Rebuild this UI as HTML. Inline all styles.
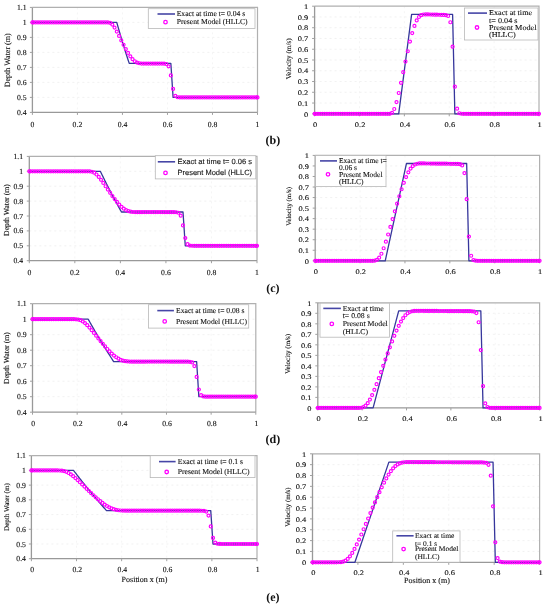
<!DOCTYPE html>
<html><head><meta charset="utf-8"><title>Dam break results</title>
<style>
html,body{margin:0;padding:0;background:#fff;}
body{width:550px;height:608px;overflow:hidden;}
svg{display:block;filter:blur(0.3px);}
text{text-rendering:geometricPrecision;}
.g{stroke:#eeeeee;stroke-width:0.8;stroke-dasharray:2 3;fill:none;}
.bd{stroke:#b0b0b0;stroke-width:1.2;fill:none;}
.ax{stroke:#999999;stroke-width:1.3;fill:none;}
.tk{stroke:#a0a0a0;stroke-width:1;fill:none;}
.ex{stroke:#36369c;stroke-width:1.3;fill:none;stroke-linejoin:round;}
.m{stroke:#ff00ff;stroke-width:1.2;fill:none;}
.lg{stroke:#b8b8b8;stroke-width:0.8;fill:#fff;}
.s{font-family:'Liberation Serif', 'Times New Roman', serif;fill:#111;stroke:#111;stroke-width:0.12px;}
.lt{fill:#111;stroke:#111;stroke-width:0.1px;}
.lab{font-family:'Liberation Serif', 'Times New Roman', serif;font-weight:bold;font-size:12px;fill:#111;}
</style></head>
<body>
<svg width="550" height="608" viewBox="0 0 550 608">
<rect width="550" height="608" fill="#fff"/>
<line x1="32.40" y1="97.40" x2="257.50" y2="97.40" class="g"/>
<line x1="32.40" y1="82.40" x2="257.50" y2="82.40" class="g"/>
<line x1="32.40" y1="67.40" x2="257.50" y2="67.40" class="g"/>
<line x1="32.40" y1="52.40" x2="257.50" y2="52.40" class="g"/>
<line x1="32.40" y1="37.40" x2="257.50" y2="37.40" class="g"/>
<line x1="32.40" y1="22.40" x2="257.50" y2="22.40" class="g"/>
<line x1="77.42" y1="7.40" x2="77.42" y2="112.40" class="g" style="stroke:#f2f2f2"/>
<line x1="122.44" y1="7.40" x2="122.44" y2="112.40" class="g" style="stroke:#f2f2f2"/>
<line x1="167.46" y1="7.40" x2="167.46" y2="112.40" class="g" style="stroke:#f2f2f2"/>
<line x1="212.48" y1="7.40" x2="212.48" y2="112.40" class="g" style="stroke:#f2f2f2"/>
<polyline points="32.40,7.40 257.50,7.40 257.50,112.40" class="bd"/>
<polyline points="32.40,7.40 32.40,112.40 257.50,112.40" class="ax"/>
<line x1="29.90" y1="112.40" x2="32.40" y2="112.40" class="tk"/>
<line x1="29.90" y1="97.40" x2="32.40" y2="97.40" class="tk"/>
<line x1="29.90" y1="82.40" x2="32.40" y2="82.40" class="tk"/>
<line x1="29.90" y1="67.40" x2="32.40" y2="67.40" class="tk"/>
<line x1="29.90" y1="52.40" x2="32.40" y2="52.40" class="tk"/>
<line x1="29.90" y1="37.40" x2="32.40" y2="37.40" class="tk"/>
<line x1="29.90" y1="22.40" x2="32.40" y2="22.40" class="tk"/>
<line x1="29.90" y1="7.40" x2="32.40" y2="7.40" class="tk"/>
<line x1="32.40" y1="112.40" x2="32.40" y2="114.90" class="tk"/>
<line x1="77.42" y1="112.40" x2="77.42" y2="114.90" class="tk"/>
<line x1="122.44" y1="112.40" x2="122.44" y2="114.90" class="tk"/>
<line x1="167.46" y1="112.40" x2="167.46" y2="114.90" class="tk"/>
<line x1="212.48" y1="112.40" x2="212.48" y2="114.90" class="tk"/>
<line x1="257.50" y1="112.40" x2="257.50" y2="114.90" class="tk"/>
<text x="26.60" y="114.94" text-anchor="end" font-size="7.7" class="s">0.4</text>
<text x="26.60" y="99.94" text-anchor="end" font-size="7.7" class="s">0.5</text>
<text x="26.60" y="84.94" text-anchor="end" font-size="7.7" class="s">0.6</text>
<text x="26.60" y="69.94" text-anchor="end" font-size="7.7" class="s">0.7</text>
<text x="26.60" y="54.94" text-anchor="end" font-size="7.7" class="s">0.8</text>
<text x="26.60" y="39.94" text-anchor="end" font-size="7.7" class="s">0.9</text>
<text x="26.60" y="24.94" text-anchor="end" font-size="7.7" class="s">1</text>
<text x="26.60" y="9.94" text-anchor="end" font-size="7.7" class="s">1.1</text>
<text x="32.40" y="126.74" text-anchor="middle" font-size="7.7" class="s">0</text>
<text x="77.42" y="126.74" text-anchor="middle" font-size="7.7" class="s">0.2</text>
<text x="122.44" y="126.74" text-anchor="middle" font-size="7.7" class="s">0.4</text>
<text x="167.46" y="126.74" text-anchor="middle" font-size="7.7" class="s">0.6</text>
<text x="212.48" y="126.74" text-anchor="middle" font-size="7.7" class="s">0.8</text>
<text x="257.50" y="126.74" text-anchor="middle" font-size="7.7" class="s">1</text>
<text x="0" y="0" transform="translate(9.80,60.30) rotate(-90)" text-anchor="middle" font-size="8" class="s">Depth Water (m)</text>
<polyline class="ex" points="32.40,22.40 116.75,22.40 117.07,23.53 117.39,24.66 117.71,25.78 118.03,26.90 118.35,28.02 118.67,29.13 118.99,30.23 119.31,31.33 119.63,32.43 119.95,33.52 120.27,34.61 120.59,35.70 120.91,36.78 121.23,37.85 121.55,38.93 121.86,39.99 122.18,41.06 122.50,42.12 122.82,43.17 123.14,44.22 123.46,45.27 123.78,46.31 124.10,47.35 124.42,48.38 124.74,49.41 125.06,50.43 125.38,51.45 125.70,52.47 126.02,53.48 126.34,54.49 126.66,55.49 126.98,56.49 127.30,57.48 127.62,58.47 127.94,59.46 128.26,60.44 128.58,61.42 128.90,62.39 129.22,63.36 170.84,63.36 173.09,97.40 257.50,97.40"/>
<circle cx="32.40" cy="22.40" r="1.5" class="m"/>
<circle cx="33.53" cy="22.40" r="1.5" class="m"/>
<circle cx="35.78" cy="22.40" r="1.5" class="m"/>
<circle cx="38.03" cy="22.40" r="1.5" class="m"/>
<circle cx="40.28" cy="22.40" r="1.5" class="m"/>
<circle cx="42.53" cy="22.40" r="1.5" class="m"/>
<circle cx="44.78" cy="22.40" r="1.5" class="m"/>
<circle cx="47.03" cy="22.40" r="1.5" class="m"/>
<circle cx="49.28" cy="22.40" r="1.5" class="m"/>
<circle cx="51.53" cy="22.40" r="1.5" class="m"/>
<circle cx="53.78" cy="22.40" r="1.5" class="m"/>
<circle cx="56.04" cy="22.40" r="1.5" class="m"/>
<circle cx="58.29" cy="22.40" r="1.5" class="m"/>
<circle cx="60.54" cy="22.40" r="1.5" class="m"/>
<circle cx="62.79" cy="22.40" r="1.5" class="m"/>
<circle cx="65.04" cy="22.40" r="1.5" class="m"/>
<circle cx="67.29" cy="22.40" r="1.5" class="m"/>
<circle cx="69.54" cy="22.40" r="1.5" class="m"/>
<circle cx="71.79" cy="22.40" r="1.5" class="m"/>
<circle cx="74.04" cy="22.40" r="1.5" class="m"/>
<circle cx="76.29" cy="22.40" r="1.5" class="m"/>
<circle cx="78.55" cy="22.40" r="1.5" class="m"/>
<circle cx="80.80" cy="22.40" r="1.5" class="m"/>
<circle cx="83.05" cy="22.40" r="1.5" class="m"/>
<circle cx="85.30" cy="22.40" r="1.5" class="m"/>
<circle cx="87.55" cy="22.40" r="1.5" class="m"/>
<circle cx="89.80" cy="22.40" r="1.5" class="m"/>
<circle cx="92.05" cy="22.40" r="1.5" class="m"/>
<circle cx="94.30" cy="22.40" r="1.5" class="m"/>
<circle cx="96.55" cy="22.40" r="1.5" class="m"/>
<circle cx="98.80" cy="22.40" r="1.5" class="m"/>
<circle cx="101.06" cy="22.40" r="1.5" class="m"/>
<circle cx="103.31" cy="22.40" r="1.5" class="m"/>
<circle cx="105.56" cy="22.40" r="1.5" class="m"/>
<circle cx="107.81" cy="22.40" r="1.5" class="m"/>
<circle cx="110.06" cy="22.85" r="1.5" class="m"/>
<circle cx="112.31" cy="24.54" r="1.5" class="m"/>
<circle cx="114.56" cy="27.59" r="1.5" class="m"/>
<circle cx="116.81" cy="31.55" r="1.5" class="m"/>
<circle cx="119.06" cy="35.93" r="1.5" class="m"/>
<circle cx="121.31" cy="40.43" r="1.5" class="m"/>
<circle cx="123.57" cy="44.86" r="1.5" class="m"/>
<circle cx="125.82" cy="49.07" r="1.5" class="m"/>
<circle cx="128.07" cy="52.94" r="1.5" class="m"/>
<circle cx="130.32" cy="56.34" r="1.5" class="m"/>
<circle cx="132.57" cy="59.14" r="1.5" class="m"/>
<circle cx="134.82" cy="61.23" r="1.5" class="m"/>
<circle cx="137.07" cy="62.57" r="1.5" class="m"/>
<circle cx="139.32" cy="63.27" r="1.5" class="m"/>
<circle cx="141.57" cy="63.53" r="1.5" class="m"/>
<circle cx="143.82" cy="63.58" r="1.5" class="m"/>
<circle cx="146.08" cy="63.57" r="1.5" class="m"/>
<circle cx="148.33" cy="63.56" r="1.5" class="m"/>
<circle cx="150.58" cy="63.56" r="1.5" class="m"/>
<circle cx="152.83" cy="63.55" r="1.5" class="m"/>
<circle cx="155.08" cy="63.56" r="1.5" class="m"/>
<circle cx="157.33" cy="63.57" r="1.5" class="m"/>
<circle cx="159.58" cy="63.58" r="1.5" class="m"/>
<circle cx="161.83" cy="63.61" r="1.5" class="m"/>
<circle cx="164.08" cy="63.66" r="1.5" class="m"/>
<circle cx="166.33" cy="64.01" r="1.5" class="m"/>
<circle cx="168.59" cy="66.36" r="1.5" class="m"/>
<circle cx="170.84" cy="75.44" r="1.5" class="m"/>
<circle cx="173.09" cy="88.93" r="1.5" class="m"/>
<circle cx="175.34" cy="95.80" r="1.5" class="m"/>
<circle cx="177.59" cy="97.23" r="1.5" class="m"/>
<circle cx="179.84" cy="97.39" r="1.5" class="m"/>
<circle cx="182.09" cy="97.40" r="1.5" class="m"/>
<circle cx="184.34" cy="97.40" r="1.5" class="m"/>
<circle cx="186.59" cy="97.40" r="1.5" class="m"/>
<circle cx="188.84" cy="97.40" r="1.5" class="m"/>
<circle cx="191.10" cy="97.40" r="1.5" class="m"/>
<circle cx="193.35" cy="97.40" r="1.5" class="m"/>
<circle cx="195.60" cy="97.40" r="1.5" class="m"/>
<circle cx="197.85" cy="97.40" r="1.5" class="m"/>
<circle cx="200.10" cy="97.40" r="1.5" class="m"/>
<circle cx="202.35" cy="97.40" r="1.5" class="m"/>
<circle cx="204.60" cy="97.40" r="1.5" class="m"/>
<circle cx="206.85" cy="97.40" r="1.5" class="m"/>
<circle cx="209.10" cy="97.40" r="1.5" class="m"/>
<circle cx="211.35" cy="97.40" r="1.5" class="m"/>
<circle cx="213.61" cy="97.40" r="1.5" class="m"/>
<circle cx="215.86" cy="97.40" r="1.5" class="m"/>
<circle cx="218.11" cy="97.40" r="1.5" class="m"/>
<circle cx="220.36" cy="97.40" r="1.5" class="m"/>
<circle cx="222.61" cy="97.40" r="1.5" class="m"/>
<circle cx="224.86" cy="97.40" r="1.5" class="m"/>
<circle cx="227.11" cy="97.40" r="1.5" class="m"/>
<circle cx="229.36" cy="97.40" r="1.5" class="m"/>
<circle cx="231.61" cy="97.40" r="1.5" class="m"/>
<circle cx="233.86" cy="97.40" r="1.5" class="m"/>
<circle cx="236.12" cy="97.40" r="1.5" class="m"/>
<circle cx="238.37" cy="97.40" r="1.5" class="m"/>
<circle cx="240.62" cy="97.40" r="1.5" class="m"/>
<circle cx="242.87" cy="97.40" r="1.5" class="m"/>
<circle cx="245.12" cy="97.40" r="1.5" class="m"/>
<circle cx="247.37" cy="97.40" r="1.5" class="m"/>
<circle cx="249.62" cy="97.40" r="1.5" class="m"/>
<circle cx="251.87" cy="97.40" r="1.5" class="m"/>
<circle cx="254.12" cy="97.40" r="1.5" class="m"/>
<circle cx="256.37" cy="97.40" r="1.5" class="m"/>
<circle cx="257.50" cy="97.40" r="1.5" class="m"/>
<rect x="148.30" y="8.70" width="106.70" height="19.70" class="lg"/>
<line x1="157.50" y1="14.00" x2="175.00" y2="14.00" class="ex" style="stroke:#4646a6;stroke-width:1.6"/>
<circle cx="165.50" cy="22.20" r="1.75" class="m" style="stroke-width:1.3"/>
<text x="0" y="0" transform="translate(176.70,16.36) scale(1.0,1)" font-size="7.6" style="font-family:'Liberation Serif', 'Times New Roman', serif" class="lt">Exact at time t= 0.04 s</text>
<text x="0" y="0" transform="translate(176.70,24.46) scale(1.0,1)" font-size="7.6" style="font-family:'Liberation Serif', 'Times New Roman', serif" class="lt">Present Model (HLLC)</text>
<line x1="314.60" y1="103.04" x2="539.00" y2="103.04" class="g"/>
<line x1="314.60" y1="92.28" x2="539.00" y2="92.28" class="g"/>
<line x1="314.60" y1="81.52" x2="539.00" y2="81.52" class="g"/>
<line x1="314.60" y1="70.76" x2="539.00" y2="70.76" class="g"/>
<line x1="314.60" y1="60.00" x2="539.00" y2="60.00" class="g"/>
<line x1="314.60" y1="49.24" x2="539.00" y2="49.24" class="g"/>
<line x1="314.60" y1="38.48" x2="539.00" y2="38.48" class="g"/>
<line x1="314.60" y1="27.72" x2="539.00" y2="27.72" class="g"/>
<line x1="314.60" y1="16.96" x2="539.00" y2="16.96" class="g"/>
<line x1="359.48" y1="6.20" x2="359.48" y2="113.80" class="g" style="stroke:#f2f2f2"/>
<line x1="404.36" y1="6.20" x2="404.36" y2="113.80" class="g" style="stroke:#f2f2f2"/>
<line x1="449.24" y1="6.20" x2="449.24" y2="113.80" class="g" style="stroke:#f2f2f2"/>
<line x1="494.12" y1="6.20" x2="494.12" y2="113.80" class="g" style="stroke:#f2f2f2"/>
<polyline points="314.60,6.20 539.00,6.20 539.00,113.80" class="bd"/>
<polyline points="314.60,6.20 314.60,113.80 539.00,113.80" class="ax"/>
<line x1="312.10" y1="113.80" x2="314.60" y2="113.80" class="tk"/>
<line x1="312.10" y1="103.04" x2="314.60" y2="103.04" class="tk"/>
<line x1="312.10" y1="92.28" x2="314.60" y2="92.28" class="tk"/>
<line x1="312.10" y1="81.52" x2="314.60" y2="81.52" class="tk"/>
<line x1="312.10" y1="70.76" x2="314.60" y2="70.76" class="tk"/>
<line x1="312.10" y1="60.00" x2="314.60" y2="60.00" class="tk"/>
<line x1="312.10" y1="49.24" x2="314.60" y2="49.24" class="tk"/>
<line x1="312.10" y1="38.48" x2="314.60" y2="38.48" class="tk"/>
<line x1="312.10" y1="27.72" x2="314.60" y2="27.72" class="tk"/>
<line x1="312.10" y1="16.96" x2="314.60" y2="16.96" class="tk"/>
<line x1="312.10" y1="6.20" x2="314.60" y2="6.20" class="tk"/>
<line x1="314.60" y1="113.80" x2="314.60" y2="116.30" class="tk"/>
<line x1="359.48" y1="113.80" x2="359.48" y2="116.30" class="tk"/>
<line x1="404.36" y1="113.80" x2="404.36" y2="116.30" class="tk"/>
<line x1="449.24" y1="113.80" x2="449.24" y2="116.30" class="tk"/>
<line x1="494.12" y1="113.80" x2="494.12" y2="116.30" class="tk"/>
<line x1="539.00" y1="113.80" x2="539.00" y2="116.30" class="tk"/>
<text x="0" y="0" transform="translate(308.30,116.51) scale(1.2,1)" text-anchor="end" font-size="7.0" class="s">0</text>
<text x="0" y="0" transform="translate(308.30,105.75) scale(1.2,1)" text-anchor="end" font-size="7.0" class="s">0.1</text>
<text x="0" y="0" transform="translate(308.30,94.99) scale(1.2,1)" text-anchor="end" font-size="7.0" class="s">0.2</text>
<text x="0" y="0" transform="translate(308.30,84.23) scale(1.2,1)" text-anchor="end" font-size="7.0" class="s">0.3</text>
<text x="0" y="0" transform="translate(308.30,73.47) scale(1.2,1)" text-anchor="end" font-size="7.0" class="s">0.4</text>
<text x="0" y="0" transform="translate(308.30,62.71) scale(1.2,1)" text-anchor="end" font-size="7.0" class="s">0.5</text>
<text x="0" y="0" transform="translate(308.30,51.95) scale(1.2,1)" text-anchor="end" font-size="7.0" class="s">0.6</text>
<text x="0" y="0" transform="translate(308.30,41.19) scale(1.2,1)" text-anchor="end" font-size="7.0" class="s">0.7</text>
<text x="0" y="0" transform="translate(308.30,30.43) scale(1.2,1)" text-anchor="end" font-size="7.0" class="s">0.8</text>
<text x="0" y="0" transform="translate(308.30,19.67) scale(1.2,1)" text-anchor="end" font-size="7.0" class="s">0.9</text>
<text x="0" y="0" transform="translate(308.30,8.91) scale(1.2,1)" text-anchor="end" font-size="7.0" class="s">1</text>
<text x="0" y="0" transform="translate(315.20,126.71) scale(1.2,1)" text-anchor="middle" font-size="7.0" class="s">0</text>
<text x="0" y="0" transform="translate(360.08,126.71) scale(1.2,1)" text-anchor="middle" font-size="7.0" class="s">0.2</text>
<text x="0" y="0" transform="translate(404.96,126.71) scale(1.2,1)" text-anchor="middle" font-size="7.0" class="s">0.4</text>
<text x="0" y="0" transform="translate(449.84,126.71) scale(1.2,1)" text-anchor="middle" font-size="7.0" class="s">0.6</text>
<text x="0" y="0" transform="translate(494.72,126.71) scale(1.2,1)" text-anchor="middle" font-size="7.0" class="s">0.8</text>
<text x="0" y="0" transform="translate(539.60,126.71) scale(1.2,1)" text-anchor="middle" font-size="7.0" class="s">1</text>
<text x="0" y="0" transform="translate(291.10,58.90) rotate(-90)" text-anchor="middle" font-size="7.2" class="s">Velocity (m/s)</text>
<polyline class="ex" points="314.60,113.80 398.69,113.80 411.62,14.45 452.61,14.45 454.85,113.80 539.00,113.80"/>
<circle cx="314.60" cy="113.80" r="1.5" class="m"/>
<circle cx="315.72" cy="113.80" r="1.5" class="m"/>
<circle cx="317.97" cy="113.80" r="1.5" class="m"/>
<circle cx="320.21" cy="113.80" r="1.5" class="m"/>
<circle cx="322.45" cy="113.80" r="1.5" class="m"/>
<circle cx="324.70" cy="113.80" r="1.5" class="m"/>
<circle cx="326.94" cy="113.80" r="1.5" class="m"/>
<circle cx="329.19" cy="113.80" r="1.5" class="m"/>
<circle cx="331.43" cy="113.80" r="1.5" class="m"/>
<circle cx="333.67" cy="113.80" r="1.5" class="m"/>
<circle cx="335.92" cy="113.80" r="1.5" class="m"/>
<circle cx="338.16" cy="113.80" r="1.5" class="m"/>
<circle cx="340.41" cy="113.80" r="1.5" class="m"/>
<circle cx="342.65" cy="113.80" r="1.5" class="m"/>
<circle cx="344.89" cy="113.80" r="1.5" class="m"/>
<circle cx="347.14" cy="113.80" r="1.5" class="m"/>
<circle cx="349.38" cy="113.80" r="1.5" class="m"/>
<circle cx="351.63" cy="113.80" r="1.5" class="m"/>
<circle cx="353.87" cy="113.80" r="1.5" class="m"/>
<circle cx="356.11" cy="113.80" r="1.5" class="m"/>
<circle cx="358.36" cy="113.80" r="1.5" class="m"/>
<circle cx="360.60" cy="113.80" r="1.5" class="m"/>
<circle cx="362.85" cy="113.80" r="1.5" class="m"/>
<circle cx="365.09" cy="113.80" r="1.5" class="m"/>
<circle cx="367.33" cy="113.80" r="1.5" class="m"/>
<circle cx="369.58" cy="113.80" r="1.5" class="m"/>
<circle cx="371.82" cy="113.80" r="1.5" class="m"/>
<circle cx="374.07" cy="113.80" r="1.5" class="m"/>
<circle cx="376.31" cy="113.80" r="1.5" class="m"/>
<circle cx="378.55" cy="113.80" r="1.5" class="m"/>
<circle cx="380.80" cy="113.80" r="1.5" class="m"/>
<circle cx="383.04" cy="113.80" r="1.5" class="m"/>
<circle cx="385.29" cy="113.80" r="1.5" class="m"/>
<circle cx="387.53" cy="113.80" r="1.5" class="m"/>
<circle cx="389.77" cy="113.80" r="1.5" class="m"/>
<circle cx="392.02" cy="112.78" r="1.5" class="m"/>
<circle cx="394.26" cy="108.99" r="1.5" class="m"/>
<circle cx="396.51" cy="102.08" r="1.5" class="m"/>
<circle cx="398.75" cy="93.01" r="1.5" class="m"/>
<circle cx="400.99" cy="82.82" r="1.5" class="m"/>
<circle cx="403.24" cy="72.19" r="1.5" class="m"/>
<circle cx="405.48" cy="61.54" r="1.5" class="m"/>
<circle cx="407.73" cy="51.24" r="1.5" class="m"/>
<circle cx="409.97" cy="41.62" r="1.5" class="m"/>
<circle cx="412.21" cy="33.04" r="1.5" class="m"/>
<circle cx="414.46" cy="25.88" r="1.5" class="m"/>
<circle cx="416.70" cy="20.47" r="1.5" class="m"/>
<circle cx="418.95" cy="16.98" r="1.5" class="m"/>
<circle cx="421.19" cy="15.17" r="1.5" class="m"/>
<circle cx="423.43" cy="14.51" r="1.5" class="m"/>
<circle cx="425.68" cy="14.40" r="1.5" class="m"/>
<circle cx="427.92" cy="14.45" r="1.5" class="m"/>
<circle cx="430.17" cy="14.52" r="1.5" class="m"/>
<circle cx="432.41" cy="14.58" r="1.5" class="m"/>
<circle cx="434.65" cy="14.64" r="1.5" class="m"/>
<circle cx="436.90" cy="14.69" r="1.5" class="m"/>
<circle cx="439.14" cy="14.75" r="1.5" class="m"/>
<circle cx="441.39" cy="14.82" r="1.5" class="m"/>
<circle cx="443.63" cy="14.91" r="1.5" class="m"/>
<circle cx="445.87" cy="15.09" r="1.5" class="m"/>
<circle cx="448.12" cy="16.00" r="1.5" class="m"/>
<circle cx="450.36" cy="22.23" r="1.5" class="m"/>
<circle cx="452.61" cy="46.64" r="1.5" class="m"/>
<circle cx="454.85" cy="86.68" r="1.5" class="m"/>
<circle cx="457.09" cy="108.69" r="1.5" class="m"/>
<circle cx="459.34" cy="113.26" r="1.5" class="m"/>
<circle cx="461.58" cy="113.77" r="1.5" class="m"/>
<circle cx="463.83" cy="113.80" r="1.5" class="m"/>
<circle cx="466.07" cy="113.80" r="1.5" class="m"/>
<circle cx="468.31" cy="113.80" r="1.5" class="m"/>
<circle cx="470.56" cy="113.80" r="1.5" class="m"/>
<circle cx="472.80" cy="113.80" r="1.5" class="m"/>
<circle cx="475.05" cy="113.80" r="1.5" class="m"/>
<circle cx="477.29" cy="113.80" r="1.5" class="m"/>
<circle cx="479.53" cy="113.80" r="1.5" class="m"/>
<circle cx="481.78" cy="113.80" r="1.5" class="m"/>
<circle cx="484.02" cy="113.80" r="1.5" class="m"/>
<circle cx="486.27" cy="113.80" r="1.5" class="m"/>
<circle cx="488.51" cy="113.80" r="1.5" class="m"/>
<circle cx="490.75" cy="113.80" r="1.5" class="m"/>
<circle cx="493.00" cy="113.80" r="1.5" class="m"/>
<circle cx="495.24" cy="113.80" r="1.5" class="m"/>
<circle cx="497.49" cy="113.80" r="1.5" class="m"/>
<circle cx="499.73" cy="113.80" r="1.5" class="m"/>
<circle cx="501.97" cy="113.80" r="1.5" class="m"/>
<circle cx="504.22" cy="113.80" r="1.5" class="m"/>
<circle cx="506.46" cy="113.80" r="1.5" class="m"/>
<circle cx="508.71" cy="113.80" r="1.5" class="m"/>
<circle cx="510.95" cy="113.80" r="1.5" class="m"/>
<circle cx="513.19" cy="113.80" r="1.5" class="m"/>
<circle cx="515.44" cy="113.80" r="1.5" class="m"/>
<circle cx="517.68" cy="113.80" r="1.5" class="m"/>
<circle cx="519.93" cy="113.80" r="1.5" class="m"/>
<circle cx="522.17" cy="113.80" r="1.5" class="m"/>
<circle cx="524.41" cy="113.80" r="1.5" class="m"/>
<circle cx="526.66" cy="113.80" r="1.5" class="m"/>
<circle cx="528.90" cy="113.80" r="1.5" class="m"/>
<circle cx="531.15" cy="113.80" r="1.5" class="m"/>
<circle cx="533.39" cy="113.80" r="1.5" class="m"/>
<circle cx="535.63" cy="113.80" r="1.5" class="m"/>
<circle cx="537.88" cy="113.80" r="1.5" class="m"/>
<circle cx="539.00" cy="113.80" r="1.5" class="m"/>
<rect x="464.40" y="8.00" width="73.60" height="32.00" class="lg"/>
<line x1="468.00" y1="13.10" x2="487.00" y2="13.10" class="ex" style="stroke:#4646a6;stroke-width:1.6"/>
<circle cx="477.00" cy="27.50" r="1.75" class="m" style="stroke-width:1.3"/>
<text x="0" y="0" transform="translate(489.00,15.43) scale(1.09,1)" font-size="7.5" style="font-family:'Liberation Serif', 'Times New Roman', serif" class="lt">Exact at time</text>
<text x="0" y="0" transform="translate(489.00,23.23) scale(1.09,1)" font-size="7.5" style="font-family:'Liberation Serif', 'Times New Roman', serif" class="lt">t= 0.04 s</text>
<text x="0" y="0" transform="translate(489.00,29.73) scale(1.09,1)" font-size="7.5" style="font-family:'Liberation Serif', 'Times New Roman', serif" class="lt">Present Model</text>
<text x="0" y="0" transform="translate(489.00,37.42) scale(1.09,1)" font-size="7.5" style="font-family:'Liberation Serif', 'Times New Roman', serif" class="lt">(HLLC)</text>
<line x1="29.30" y1="245.80" x2="257.00" y2="245.80" class="g"/>
<line x1="29.30" y1="230.90" x2="257.00" y2="230.90" class="g"/>
<line x1="29.30" y1="216.00" x2="257.00" y2="216.00" class="g"/>
<line x1="29.30" y1="201.10" x2="257.00" y2="201.10" class="g"/>
<line x1="29.30" y1="186.20" x2="257.00" y2="186.20" class="g"/>
<line x1="29.30" y1="171.30" x2="257.00" y2="171.30" class="g"/>
<line x1="74.84" y1="156.40" x2="74.84" y2="260.70" class="g" style="stroke:#f2f2f2"/>
<line x1="120.38" y1="156.40" x2="120.38" y2="260.70" class="g" style="stroke:#f2f2f2"/>
<line x1="165.92" y1="156.40" x2="165.92" y2="260.70" class="g" style="stroke:#f2f2f2"/>
<line x1="211.46" y1="156.40" x2="211.46" y2="260.70" class="g" style="stroke:#f2f2f2"/>
<polyline points="29.30,156.40 257.00,156.40 257.00,260.70" class="bd"/>
<polyline points="29.30,156.40 29.30,260.70 257.00,260.70" class="ax"/>
<line x1="26.80" y1="260.70" x2="29.30" y2="260.70" class="tk"/>
<line x1="26.80" y1="245.80" x2="29.30" y2="245.80" class="tk"/>
<line x1="26.80" y1="230.90" x2="29.30" y2="230.90" class="tk"/>
<line x1="26.80" y1="216.00" x2="29.30" y2="216.00" class="tk"/>
<line x1="26.80" y1="201.10" x2="29.30" y2="201.10" class="tk"/>
<line x1="26.80" y1="186.20" x2="29.30" y2="186.20" class="tk"/>
<line x1="26.80" y1="171.30" x2="29.30" y2="171.30" class="tk"/>
<line x1="26.80" y1="156.40" x2="29.30" y2="156.40" class="tk"/>
<line x1="29.30" y1="260.70" x2="29.30" y2="263.20" class="tk"/>
<line x1="74.84" y1="260.70" x2="74.84" y2="263.20" class="tk"/>
<line x1="120.38" y1="260.70" x2="120.38" y2="263.20" class="tk"/>
<line x1="165.92" y1="260.70" x2="165.92" y2="263.20" class="tk"/>
<line x1="211.46" y1="260.70" x2="211.46" y2="263.20" class="tk"/>
<line x1="257.00" y1="260.70" x2="257.00" y2="263.20" class="tk"/>
<text x="23.10" y="263.24" text-anchor="end" font-size="7.7" class="s">0.4</text>
<text x="23.10" y="248.34" text-anchor="end" font-size="7.7" class="s">0.5</text>
<text x="23.10" y="233.44" text-anchor="end" font-size="7.7" class="s">0.6</text>
<text x="23.10" y="218.54" text-anchor="end" font-size="7.7" class="s">0.7</text>
<text x="23.10" y="203.64" text-anchor="end" font-size="7.7" class="s">0.8</text>
<text x="23.10" y="188.74" text-anchor="end" font-size="7.7" class="s">0.9</text>
<text x="23.10" y="173.84" text-anchor="end" font-size="7.7" class="s">1</text>
<text x="23.10" y="158.94" text-anchor="end" font-size="7.7" class="s">1.1</text>
<text x="29.30" y="274.74" text-anchor="middle" font-size="7.7" class="s">0</text>
<text x="74.84" y="274.74" text-anchor="middle" font-size="7.7" class="s">0.2</text>
<text x="120.38" y="274.74" text-anchor="middle" font-size="7.7" class="s">0.4</text>
<text x="165.92" y="274.74" text-anchor="middle" font-size="7.7" class="s">0.6</text>
<text x="211.46" y="274.74" text-anchor="middle" font-size="7.7" class="s">0.8</text>
<text x="257.00" y="274.74" text-anchor="middle" font-size="7.7" class="s">1</text>
<text x="0" y="0" transform="translate(9.12,210.00) rotate(-90)" text-anchor="middle" font-size="7.7" class="s">Depth Water (m)</text>
<polyline class="ex" points="29.30,171.30 100.36,171.30 100.90,172.42 101.44,173.54 101.98,174.66 102.53,175.77 103.07,176.88 103.61,177.98 104.15,179.08 104.69,180.17 105.23,181.26 105.78,182.35 106.32,183.43 106.86,184.51 107.40,185.58 107.94,186.65 108.48,187.72 109.02,188.78 109.57,189.83 110.11,190.88 110.65,191.93 111.19,192.97 111.73,194.01 112.27,195.05 112.82,196.08 113.36,197.11 113.90,198.13 114.44,199.15 114.98,200.16 115.52,201.17 116.07,202.17 116.61,203.17 117.15,204.17 117.69,205.16 118.23,206.15 118.77,207.13 119.32,208.11 119.86,209.09 120.40,210.06 120.94,211.03 121.48,211.99 183.00,211.99 185.27,245.80 257.00,245.80"/>
<circle cx="29.30" cy="171.30" r="1.5" class="m"/>
<circle cx="30.44" cy="171.30" r="1.5" class="m"/>
<circle cx="32.72" cy="171.30" r="1.5" class="m"/>
<circle cx="34.99" cy="171.30" r="1.5" class="m"/>
<circle cx="37.27" cy="171.30" r="1.5" class="m"/>
<circle cx="39.55" cy="171.30" r="1.5" class="m"/>
<circle cx="41.82" cy="171.30" r="1.5" class="m"/>
<circle cx="44.10" cy="171.30" r="1.5" class="m"/>
<circle cx="46.38" cy="171.30" r="1.5" class="m"/>
<circle cx="48.65" cy="171.30" r="1.5" class="m"/>
<circle cx="50.93" cy="171.30" r="1.5" class="m"/>
<circle cx="53.21" cy="171.30" r="1.5" class="m"/>
<circle cx="55.49" cy="171.30" r="1.5" class="m"/>
<circle cx="57.76" cy="171.30" r="1.5" class="m"/>
<circle cx="60.04" cy="171.30" r="1.5" class="m"/>
<circle cx="62.32" cy="171.30" r="1.5" class="m"/>
<circle cx="64.59" cy="171.30" r="1.5" class="m"/>
<circle cx="66.87" cy="171.30" r="1.5" class="m"/>
<circle cx="69.15" cy="171.30" r="1.5" class="m"/>
<circle cx="71.42" cy="171.30" r="1.5" class="m"/>
<circle cx="73.70" cy="171.30" r="1.5" class="m"/>
<circle cx="75.98" cy="171.30" r="1.5" class="m"/>
<circle cx="78.26" cy="171.30" r="1.5" class="m"/>
<circle cx="80.53" cy="171.30" r="1.5" class="m"/>
<circle cx="82.81" cy="171.30" r="1.5" class="m"/>
<circle cx="85.09" cy="171.30" r="1.5" class="m"/>
<circle cx="87.36" cy="171.30" r="1.5" class="m"/>
<circle cx="89.64" cy="171.36" r="1.5" class="m"/>
<circle cx="91.92" cy="171.73" r="1.5" class="m"/>
<circle cx="94.19" cy="172.72" r="1.5" class="m"/>
<circle cx="96.47" cy="174.48" r="1.5" class="m"/>
<circle cx="98.75" cy="176.92" r="1.5" class="m"/>
<circle cx="101.03" cy="179.81" r="1.5" class="m"/>
<circle cx="103.30" cy="182.97" r="1.5" class="m"/>
<circle cx="105.58" cy="186.25" r="1.5" class="m"/>
<circle cx="107.86" cy="189.57" r="1.5" class="m"/>
<circle cx="110.13" cy="192.85" r="1.5" class="m"/>
<circle cx="112.41" cy="196.04" r="1.5" class="m"/>
<circle cx="114.69" cy="199.09" r="1.5" class="m"/>
<circle cx="116.96" cy="201.93" r="1.5" class="m"/>
<circle cx="119.24" cy="204.53" r="1.5" class="m"/>
<circle cx="121.52" cy="206.79" r="1.5" class="m"/>
<circle cx="123.80" cy="208.68" r="1.5" class="m"/>
<circle cx="126.07" cy="210.12" r="1.5" class="m"/>
<circle cx="128.35" cy="211.12" r="1.5" class="m"/>
<circle cx="130.63" cy="211.72" r="1.5" class="m"/>
<circle cx="132.90" cy="212.01" r="1.5" class="m"/>
<circle cx="135.18" cy="212.12" r="1.5" class="m"/>
<circle cx="137.46" cy="212.14" r="1.5" class="m"/>
<circle cx="139.73" cy="212.14" r="1.5" class="m"/>
<circle cx="142.01" cy="212.13" r="1.5" class="m"/>
<circle cx="144.29" cy="212.12" r="1.5" class="m"/>
<circle cx="146.57" cy="212.12" r="1.5" class="m"/>
<circle cx="148.84" cy="212.11" r="1.5" class="m"/>
<circle cx="151.12" cy="212.11" r="1.5" class="m"/>
<circle cx="153.40" cy="212.11" r="1.5" class="m"/>
<circle cx="155.67" cy="212.11" r="1.5" class="m"/>
<circle cx="157.95" cy="212.11" r="1.5" class="m"/>
<circle cx="160.23" cy="212.12" r="1.5" class="m"/>
<circle cx="162.50" cy="212.12" r="1.5" class="m"/>
<circle cx="164.78" cy="212.13" r="1.5" class="m"/>
<circle cx="167.06" cy="212.13" r="1.5" class="m"/>
<circle cx="169.34" cy="212.14" r="1.5" class="m"/>
<circle cx="171.61" cy="212.16" r="1.5" class="m"/>
<circle cx="173.89" cy="212.18" r="1.5" class="m"/>
<circle cx="176.17" cy="212.26" r="1.5" class="m"/>
<circle cx="178.44" cy="212.75" r="1.5" class="m"/>
<circle cx="180.72" cy="215.71" r="1.5" class="m"/>
<circle cx="183.00" cy="225.44" r="1.5" class="m"/>
<circle cx="185.27" cy="238.11" r="1.5" class="m"/>
<circle cx="187.55" cy="244.20" r="1.5" class="m"/>
<circle cx="189.83" cy="245.57" r="1.5" class="m"/>
<circle cx="192.11" cy="245.77" r="1.5" class="m"/>
<circle cx="194.38" cy="245.80" r="1.5" class="m"/>
<circle cx="196.66" cy="245.80" r="1.5" class="m"/>
<circle cx="198.94" cy="245.80" r="1.5" class="m"/>
<circle cx="201.21" cy="245.80" r="1.5" class="m"/>
<circle cx="203.49" cy="245.80" r="1.5" class="m"/>
<circle cx="205.77" cy="245.80" r="1.5" class="m"/>
<circle cx="208.04" cy="245.80" r="1.5" class="m"/>
<circle cx="210.32" cy="245.80" r="1.5" class="m"/>
<circle cx="212.60" cy="245.80" r="1.5" class="m"/>
<circle cx="214.88" cy="245.80" r="1.5" class="m"/>
<circle cx="217.15" cy="245.80" r="1.5" class="m"/>
<circle cx="219.43" cy="245.80" r="1.5" class="m"/>
<circle cx="221.71" cy="245.80" r="1.5" class="m"/>
<circle cx="223.98" cy="245.80" r="1.5" class="m"/>
<circle cx="226.26" cy="245.80" r="1.5" class="m"/>
<circle cx="228.54" cy="245.80" r="1.5" class="m"/>
<circle cx="230.81" cy="245.80" r="1.5" class="m"/>
<circle cx="233.09" cy="245.80" r="1.5" class="m"/>
<circle cx="235.37" cy="245.80" r="1.5" class="m"/>
<circle cx="237.65" cy="245.80" r="1.5" class="m"/>
<circle cx="239.92" cy="245.80" r="1.5" class="m"/>
<circle cx="242.20" cy="245.80" r="1.5" class="m"/>
<circle cx="244.48" cy="245.80" r="1.5" class="m"/>
<circle cx="246.75" cy="245.80" r="1.5" class="m"/>
<circle cx="249.03" cy="245.80" r="1.5" class="m"/>
<circle cx="251.31" cy="245.80" r="1.5" class="m"/>
<circle cx="253.58" cy="245.80" r="1.5" class="m"/>
<circle cx="255.86" cy="245.80" r="1.5" class="m"/>
<circle cx="257.00" cy="245.80" r="1.5" class="m"/>
<rect x="155.30" y="155.70" width="100.50" height="23.20" class="lg"/>
<line x1="157.80" y1="161.80" x2="175.10" y2="161.80" class="ex" style="stroke:#4646a6;stroke-width:1.6"/>
<circle cx="165.50" cy="172.90" r="1.75" class="m" style="stroke-width:1.3"/>
<text x="0" y="0" transform="translate(177.50,164.12) scale(1.0,1)" font-size="7.5" style="font-family:'Liberation Sans', Arial, sans-serif" class="lt">Exact at time t= 0.06 s</text>
<text x="0" y="0" transform="translate(177.50,175.12) scale(1.0,1)" font-size="7.5" style="font-family:'Liberation Sans', Arial, sans-serif" class="lt">Present Model (HLLC)</text>
<line x1="315.20" y1="250.26" x2="539.60" y2="250.26" class="g"/>
<line x1="315.20" y1="239.72" x2="539.60" y2="239.72" class="g"/>
<line x1="315.20" y1="229.18" x2="539.60" y2="229.18" class="g"/>
<line x1="315.20" y1="218.64" x2="539.60" y2="218.64" class="g"/>
<line x1="315.20" y1="208.10" x2="539.60" y2="208.10" class="g"/>
<line x1="315.20" y1="197.56" x2="539.60" y2="197.56" class="g"/>
<line x1="315.20" y1="187.02" x2="539.60" y2="187.02" class="g"/>
<line x1="315.20" y1="176.48" x2="539.60" y2="176.48" class="g"/>
<line x1="315.20" y1="165.94" x2="539.60" y2="165.94" class="g"/>
<line x1="360.08" y1="155.40" x2="360.08" y2="260.80" class="g" style="stroke:#f2f2f2"/>
<line x1="404.96" y1="155.40" x2="404.96" y2="260.80" class="g" style="stroke:#f2f2f2"/>
<line x1="449.84" y1="155.40" x2="449.84" y2="260.80" class="g" style="stroke:#f2f2f2"/>
<line x1="494.72" y1="155.40" x2="494.72" y2="260.80" class="g" style="stroke:#f2f2f2"/>
<polyline points="315.20,155.40 539.60,155.40 539.60,260.80" class="bd"/>
<polyline points="315.20,155.40 315.20,260.80 539.60,260.80" class="ax"/>
<line x1="312.70" y1="260.80" x2="315.20" y2="260.80" class="tk"/>
<line x1="312.70" y1="250.26" x2="315.20" y2="250.26" class="tk"/>
<line x1="312.70" y1="239.72" x2="315.20" y2="239.72" class="tk"/>
<line x1="312.70" y1="229.18" x2="315.20" y2="229.18" class="tk"/>
<line x1="312.70" y1="218.64" x2="315.20" y2="218.64" class="tk"/>
<line x1="312.70" y1="208.10" x2="315.20" y2="208.10" class="tk"/>
<line x1="312.70" y1="197.56" x2="315.20" y2="197.56" class="tk"/>
<line x1="312.70" y1="187.02" x2="315.20" y2="187.02" class="tk"/>
<line x1="312.70" y1="176.48" x2="315.20" y2="176.48" class="tk"/>
<line x1="312.70" y1="165.94" x2="315.20" y2="165.94" class="tk"/>
<line x1="312.70" y1="155.40" x2="315.20" y2="155.40" class="tk"/>
<line x1="315.20" y1="260.80" x2="315.20" y2="263.30" class="tk"/>
<line x1="360.08" y1="260.80" x2="360.08" y2="263.30" class="tk"/>
<line x1="404.96" y1="260.80" x2="404.96" y2="263.30" class="tk"/>
<line x1="449.84" y1="260.80" x2="449.84" y2="263.30" class="tk"/>
<line x1="494.72" y1="260.80" x2="494.72" y2="263.30" class="tk"/>
<line x1="539.60" y1="260.80" x2="539.60" y2="263.30" class="tk"/>
<text x="0" y="0" transform="translate(308.90,263.51) scale(1.2,1)" text-anchor="end" font-size="7.0" class="s">0</text>
<text x="0" y="0" transform="translate(308.90,252.97) scale(1.2,1)" text-anchor="end" font-size="7.0" class="s">0.1</text>
<text x="0" y="0" transform="translate(308.90,242.43) scale(1.2,1)" text-anchor="end" font-size="7.0" class="s">0.2</text>
<text x="0" y="0" transform="translate(308.90,231.89) scale(1.2,1)" text-anchor="end" font-size="7.0" class="s">0.3</text>
<text x="0" y="0" transform="translate(308.90,221.35) scale(1.2,1)" text-anchor="end" font-size="7.0" class="s">0.4</text>
<text x="0" y="0" transform="translate(308.90,210.81) scale(1.2,1)" text-anchor="end" font-size="7.0" class="s">0.5</text>
<text x="0" y="0" transform="translate(308.90,200.27) scale(1.2,1)" text-anchor="end" font-size="7.0" class="s">0.6</text>
<text x="0" y="0" transform="translate(308.90,189.73) scale(1.2,1)" text-anchor="end" font-size="7.0" class="s">0.7</text>
<text x="0" y="0" transform="translate(308.90,179.19) scale(1.2,1)" text-anchor="end" font-size="7.0" class="s">0.8</text>
<text x="0" y="0" transform="translate(308.90,168.65) scale(1.2,1)" text-anchor="end" font-size="7.0" class="s">0.9</text>
<text x="0" y="0" transform="translate(308.90,158.11) scale(1.2,1)" text-anchor="end" font-size="7.0" class="s">1</text>
<text x="0" y="0" transform="translate(315.80,273.51) scale(1.2,1)" text-anchor="middle" font-size="7.0" class="s">0</text>
<text x="0" y="0" transform="translate(360.68,273.51) scale(1.2,1)" text-anchor="middle" font-size="7.0" class="s">0.2</text>
<text x="0" y="0" transform="translate(405.56,273.51) scale(1.2,1)" text-anchor="middle" font-size="7.0" class="s">0.4</text>
<text x="0" y="0" transform="translate(450.44,273.51) scale(1.2,1)" text-anchor="middle" font-size="7.0" class="s">0.6</text>
<text x="0" y="0" transform="translate(495.32,273.51) scale(1.2,1)" text-anchor="middle" font-size="7.0" class="s">0.8</text>
<text x="0" y="0" transform="translate(540.20,273.51) scale(1.2,1)" text-anchor="middle" font-size="7.0" class="s">1</text>
<text x="0" y="0" transform="translate(290.60,206.40) rotate(-90)" text-anchor="middle" font-size="6.8" class="s">Velocity (m/s)</text>
<polyline class="ex" points="315.20,260.80 385.23,260.80 406.48,163.48 466.67,163.48 468.91,260.80 539.60,260.80"/>
<circle cx="315.20" cy="260.80" r="1.5" class="m"/>
<circle cx="316.32" cy="260.80" r="1.5" class="m"/>
<circle cx="318.57" cy="260.80" r="1.5" class="m"/>
<circle cx="320.81" cy="260.80" r="1.5" class="m"/>
<circle cx="323.05" cy="260.80" r="1.5" class="m"/>
<circle cx="325.30" cy="260.80" r="1.5" class="m"/>
<circle cx="327.54" cy="260.80" r="1.5" class="m"/>
<circle cx="329.79" cy="260.80" r="1.5" class="m"/>
<circle cx="332.03" cy="260.80" r="1.5" class="m"/>
<circle cx="334.27" cy="260.80" r="1.5" class="m"/>
<circle cx="336.52" cy="260.80" r="1.5" class="m"/>
<circle cx="338.76" cy="260.80" r="1.5" class="m"/>
<circle cx="341.01" cy="260.80" r="1.5" class="m"/>
<circle cx="343.25" cy="260.80" r="1.5" class="m"/>
<circle cx="345.49" cy="260.80" r="1.5" class="m"/>
<circle cx="347.74" cy="260.80" r="1.5" class="m"/>
<circle cx="349.98" cy="260.80" r="1.5" class="m"/>
<circle cx="352.23" cy="260.80" r="1.5" class="m"/>
<circle cx="354.47" cy="260.80" r="1.5" class="m"/>
<circle cx="356.71" cy="260.80" r="1.5" class="m"/>
<circle cx="358.96" cy="260.80" r="1.5" class="m"/>
<circle cx="361.20" cy="260.80" r="1.5" class="m"/>
<circle cx="363.45" cy="260.80" r="1.5" class="m"/>
<circle cx="365.69" cy="260.80" r="1.5" class="m"/>
<circle cx="367.93" cy="260.80" r="1.5" class="m"/>
<circle cx="370.18" cy="260.80" r="1.5" class="m"/>
<circle cx="372.42" cy="260.80" r="1.5" class="m"/>
<circle cx="374.67" cy="260.66" r="1.5" class="m"/>
<circle cx="376.91" cy="259.86" r="1.5" class="m"/>
<circle cx="379.15" cy="257.66" r="1.5" class="m"/>
<circle cx="381.40" cy="253.73" r="1.5" class="m"/>
<circle cx="383.64" cy="248.27" r="1.5" class="m"/>
<circle cx="385.89" cy="241.72" r="1.5" class="m"/>
<circle cx="388.13" cy="234.50" r="1.5" class="m"/>
<circle cx="390.37" cy="226.90" r="1.5" class="m"/>
<circle cx="392.62" cy="219.12" r="1.5" class="m"/>
<circle cx="394.86" cy="211.34" r="1.5" class="m"/>
<circle cx="397.11" cy="203.68" r="1.5" class="m"/>
<circle cx="399.35" cy="196.27" r="1.5" class="m"/>
<circle cx="401.59" cy="189.26" r="1.5" class="m"/>
<circle cx="403.84" cy="182.81" r="1.5" class="m"/>
<circle cx="406.08" cy="177.10" r="1.5" class="m"/>
<circle cx="408.33" cy="172.31" r="1.5" class="m"/>
<circle cx="410.57" cy="168.61" r="1.5" class="m"/>
<circle cx="412.81" cy="166.03" r="1.5" class="m"/>
<circle cx="415.06" cy="164.49" r="1.5" class="m"/>
<circle cx="417.30" cy="163.74" r="1.5" class="m"/>
<circle cx="419.55" cy="163.47" r="1.5" class="m"/>
<circle cx="421.79" cy="163.43" r="1.5" class="m"/>
<circle cx="424.03" cy="163.45" r="1.5" class="m"/>
<circle cx="426.28" cy="163.49" r="1.5" class="m"/>
<circle cx="428.52" cy="163.52" r="1.5" class="m"/>
<circle cx="430.77" cy="163.55" r="1.5" class="m"/>
<circle cx="433.01" cy="163.58" r="1.5" class="m"/>
<circle cx="435.25" cy="163.60" r="1.5" class="m"/>
<circle cx="437.50" cy="163.63" r="1.5" class="m"/>
<circle cx="439.74" cy="163.65" r="1.5" class="m"/>
<circle cx="441.99" cy="163.67" r="1.5" class="m"/>
<circle cx="444.23" cy="163.70" r="1.5" class="m"/>
<circle cx="446.47" cy="163.72" r="1.5" class="m"/>
<circle cx="448.72" cy="163.75" r="1.5" class="m"/>
<circle cx="450.96" cy="163.78" r="1.5" class="m"/>
<circle cx="453.21" cy="163.82" r="1.5" class="m"/>
<circle cx="455.45" cy="163.86" r="1.5" class="m"/>
<circle cx="457.69" cy="163.93" r="1.5" class="m"/>
<circle cx="459.94" cy="164.14" r="1.5" class="m"/>
<circle cx="462.18" cy="165.40" r="1.5" class="m"/>
<circle cx="464.43" cy="173.10" r="1.5" class="m"/>
<circle cx="466.67" cy="199.14" r="1.5" class="m"/>
<circle cx="468.91" cy="236.55" r="1.5" class="m"/>
<circle cx="471.16" cy="255.76" r="1.5" class="m"/>
<circle cx="473.40" cy="260.07" r="1.5" class="m"/>
<circle cx="475.65" cy="260.72" r="1.5" class="m"/>
<circle cx="477.89" cy="260.79" r="1.5" class="m"/>
<circle cx="480.13" cy="260.80" r="1.5" class="m"/>
<circle cx="482.38" cy="260.80" r="1.5" class="m"/>
<circle cx="484.62" cy="260.80" r="1.5" class="m"/>
<circle cx="486.87" cy="260.80" r="1.5" class="m"/>
<circle cx="489.11" cy="260.80" r="1.5" class="m"/>
<circle cx="491.35" cy="260.80" r="1.5" class="m"/>
<circle cx="493.60" cy="260.80" r="1.5" class="m"/>
<circle cx="495.84" cy="260.80" r="1.5" class="m"/>
<circle cx="498.09" cy="260.80" r="1.5" class="m"/>
<circle cx="500.33" cy="260.80" r="1.5" class="m"/>
<circle cx="502.57" cy="260.80" r="1.5" class="m"/>
<circle cx="504.82" cy="260.80" r="1.5" class="m"/>
<circle cx="507.06" cy="260.80" r="1.5" class="m"/>
<circle cx="509.31" cy="260.80" r="1.5" class="m"/>
<circle cx="511.55" cy="260.80" r="1.5" class="m"/>
<circle cx="513.79" cy="260.80" r="1.5" class="m"/>
<circle cx="516.04" cy="260.80" r="1.5" class="m"/>
<circle cx="518.28" cy="260.80" r="1.5" class="m"/>
<circle cx="520.53" cy="260.80" r="1.5" class="m"/>
<circle cx="522.77" cy="260.80" r="1.5" class="m"/>
<circle cx="525.01" cy="260.80" r="1.5" class="m"/>
<circle cx="527.26" cy="260.80" r="1.5" class="m"/>
<circle cx="529.50" cy="260.80" r="1.5" class="m"/>
<circle cx="531.75" cy="260.80" r="1.5" class="m"/>
<circle cx="533.99" cy="260.80" r="1.5" class="m"/>
<circle cx="536.23" cy="260.80" r="1.5" class="m"/>
<circle cx="538.48" cy="260.80" r="1.5" class="m"/>
<circle cx="539.60" cy="260.80" r="1.5" class="m"/>
<rect x="315.60" y="155.60" width="70.40" height="31.00" class="lg"/>
<line x1="320.00" y1="160.90" x2="337.00" y2="160.90" class="ex" style="stroke:#4646a6;stroke-width:1.6"/>
<circle cx="328.00" cy="174.30" r="1.75" class="m" style="stroke-width:1.3"/>
<text x="0" y="0" transform="translate(339.00,163.22) scale(1.0,1)" font-size="7.5" style="font-family:'Liberation Serif', 'Times New Roman', serif" class="lt">Exact at time t=</text>
<text x="0" y="0" transform="translate(339.00,169.82) scale(1.0,1)" font-size="7.5" style="font-family:'Liberation Serif', 'Times New Roman', serif" class="lt">0.06 s</text>
<text x="0" y="0" transform="translate(339.00,176.53) scale(1.0,1)" font-size="7.5" style="font-family:'Liberation Serif', 'Times New Roman', serif" class="lt">Present Model</text>
<text x="0" y="0" transform="translate(339.00,183.72) scale(1.0,1)" font-size="7.5" style="font-family:'Liberation Serif', 'Times New Roman', serif" class="lt">(HLLC)</text>
<line x1="32.50" y1="396.70" x2="255.80" y2="396.70" class="g"/>
<line x1="32.50" y1="381.20" x2="255.80" y2="381.20" class="g"/>
<line x1="32.50" y1="365.70" x2="255.80" y2="365.70" class="g"/>
<line x1="32.50" y1="350.20" x2="255.80" y2="350.20" class="g"/>
<line x1="32.50" y1="334.70" x2="255.80" y2="334.70" class="g"/>
<line x1="32.50" y1="319.20" x2="255.80" y2="319.20" class="g"/>
<line x1="77.16" y1="303.70" x2="77.16" y2="412.20" class="g" style="stroke:#f2f2f2"/>
<line x1="121.82" y1="303.70" x2="121.82" y2="412.20" class="g" style="stroke:#f2f2f2"/>
<line x1="166.48" y1="303.70" x2="166.48" y2="412.20" class="g" style="stroke:#f2f2f2"/>
<line x1="211.14" y1="303.70" x2="211.14" y2="412.20" class="g" style="stroke:#f2f2f2"/>
<polyline points="32.50,303.70 255.80,303.70 255.80,412.20" class="bd"/>
<polyline points="32.50,303.70 32.50,412.20 255.80,412.20" class="ax"/>
<line x1="30.00" y1="412.20" x2="32.50" y2="412.20" class="tk"/>
<line x1="30.00" y1="396.70" x2="32.50" y2="396.70" class="tk"/>
<line x1="30.00" y1="381.20" x2="32.50" y2="381.20" class="tk"/>
<line x1="30.00" y1="365.70" x2="32.50" y2="365.70" class="tk"/>
<line x1="30.00" y1="350.20" x2="32.50" y2="350.20" class="tk"/>
<line x1="30.00" y1="334.70" x2="32.50" y2="334.70" class="tk"/>
<line x1="30.00" y1="319.20" x2="32.50" y2="319.20" class="tk"/>
<line x1="30.00" y1="303.70" x2="32.50" y2="303.70" class="tk"/>
<line x1="32.50" y1="412.20" x2="32.50" y2="414.70" class="tk"/>
<line x1="77.16" y1="412.20" x2="77.16" y2="414.70" class="tk"/>
<line x1="121.82" y1="412.20" x2="121.82" y2="414.70" class="tk"/>
<line x1="166.48" y1="412.20" x2="166.48" y2="414.70" class="tk"/>
<line x1="211.14" y1="412.20" x2="211.14" y2="414.70" class="tk"/>
<line x1="255.80" y1="412.20" x2="255.80" y2="414.70" class="tk"/>
<text x="26.70" y="414.74" text-anchor="end" font-size="7.7" class="s">0.4</text>
<text x="26.70" y="399.24" text-anchor="end" font-size="7.7" class="s">0.5</text>
<text x="26.70" y="383.74" text-anchor="end" font-size="7.7" class="s">0.6</text>
<text x="26.70" y="368.24" text-anchor="end" font-size="7.7" class="s">0.7</text>
<text x="26.70" y="352.74" text-anchor="end" font-size="7.7" class="s">0.8</text>
<text x="26.70" y="337.24" text-anchor="end" font-size="7.7" class="s">0.9</text>
<text x="26.70" y="321.74" text-anchor="end" font-size="7.7" class="s">1</text>
<text x="26.70" y="306.24" text-anchor="end" font-size="7.7" class="s">1.1</text>
<text x="33.10" y="425.84" text-anchor="middle" font-size="7.7" class="s">0</text>
<text x="77.76" y="425.84" text-anchor="middle" font-size="7.7" class="s">0.2</text>
<text x="122.42" y="425.84" text-anchor="middle" font-size="7.7" class="s">0.4</text>
<text x="167.08" y="425.84" text-anchor="middle" font-size="7.7" class="s">0.6</text>
<text x="211.74" y="425.84" text-anchor="middle" font-size="7.7" class="s">0.8</text>
<text x="256.40" y="425.84" text-anchor="middle" font-size="7.7" class="s">1</text>
<text x="0" y="0" transform="translate(9.03,358.00) rotate(-90)" text-anchor="middle" font-size="7.7" class="s">Depth Water (m)</text>
<polyline class="ex" points="32.50,319.20 88.20,319.20 88.85,320.37 89.50,321.53 90.16,322.70 90.81,323.85 91.46,325.00 92.11,326.15 92.76,327.29 93.42,328.43 94.07,329.57 94.72,330.70 95.37,331.82 96.03,332.94 96.68,334.06 97.33,335.17 97.98,336.28 98.64,337.38 99.29,338.48 99.94,339.57 100.59,340.66 101.25,341.75 101.90,342.83 102.55,343.91 103.20,344.98 103.86,346.04 104.51,347.11 105.16,348.17 105.81,349.22 106.46,350.27 107.12,351.32 107.77,352.36 108.42,353.39 109.07,354.43 109.73,355.45 110.38,356.48 111.03,357.50 111.68,358.51 112.34,359.52 112.99,360.53 113.64,361.53 196.63,361.53 198.86,396.70 255.80,396.70"/>
<circle cx="32.50" cy="319.20" r="1.5" class="m"/>
<circle cx="33.62" cy="319.20" r="1.5" class="m"/>
<circle cx="35.85" cy="319.20" r="1.5" class="m"/>
<circle cx="38.08" cy="319.20" r="1.5" class="m"/>
<circle cx="40.32" cy="319.20" r="1.5" class="m"/>
<circle cx="42.55" cy="319.20" r="1.5" class="m"/>
<circle cx="44.78" cy="319.20" r="1.5" class="m"/>
<circle cx="47.01" cy="319.20" r="1.5" class="m"/>
<circle cx="49.25" cy="319.20" r="1.5" class="m"/>
<circle cx="51.48" cy="319.20" r="1.5" class="m"/>
<circle cx="53.71" cy="319.20" r="1.5" class="m"/>
<circle cx="55.95" cy="319.20" r="1.5" class="m"/>
<circle cx="58.18" cy="319.20" r="1.5" class="m"/>
<circle cx="60.41" cy="319.20" r="1.5" class="m"/>
<circle cx="62.65" cy="319.20" r="1.5" class="m"/>
<circle cx="64.88" cy="319.20" r="1.5" class="m"/>
<circle cx="67.11" cy="319.20" r="1.5" class="m"/>
<circle cx="69.34" cy="319.20" r="1.5" class="m"/>
<circle cx="71.58" cy="319.20" r="1.5" class="m"/>
<circle cx="73.81" cy="319.21" r="1.5" class="m"/>
<circle cx="76.04" cy="319.28" r="1.5" class="m"/>
<circle cx="78.28" cy="319.56" r="1.5" class="m"/>
<circle cx="80.51" cy="320.22" r="1.5" class="m"/>
<circle cx="82.74" cy="321.40" r="1.5" class="m"/>
<circle cx="84.98" cy="323.10" r="1.5" class="m"/>
<circle cx="87.21" cy="325.20" r="1.5" class="m"/>
<circle cx="89.44" cy="327.61" r="1.5" class="m"/>
<circle cx="91.67" cy="330.20" r="1.5" class="m"/>
<circle cx="93.91" cy="332.90" r="1.5" class="m"/>
<circle cx="96.14" cy="335.66" r="1.5" class="m"/>
<circle cx="98.37" cy="338.43" r="1.5" class="m"/>
<circle cx="100.61" cy="341.17" r="1.5" class="m"/>
<circle cx="102.84" cy="343.86" r="1.5" class="m"/>
<circle cx="105.07" cy="346.47" r="1.5" class="m"/>
<circle cx="107.31" cy="348.98" r="1.5" class="m"/>
<circle cx="109.54" cy="351.35" r="1.5" class="m"/>
<circle cx="111.77" cy="353.54" r="1.5" class="m"/>
<circle cx="114.00" cy="355.53" r="1.5" class="m"/>
<circle cx="116.24" cy="357.27" r="1.5" class="m"/>
<circle cx="118.47" cy="358.71" r="1.5" class="m"/>
<circle cx="120.70" cy="359.85" r="1.5" class="m"/>
<circle cx="122.94" cy="360.66" r="1.5" class="m"/>
<circle cx="125.17" cy="361.18" r="1.5" class="m"/>
<circle cx="127.40" cy="361.47" r="1.5" class="m"/>
<circle cx="129.64" cy="361.60" r="1.5" class="m"/>
<circle cx="131.87" cy="361.65" r="1.5" class="m"/>
<circle cx="134.10" cy="361.66" r="1.5" class="m"/>
<circle cx="136.33" cy="361.65" r="1.5" class="m"/>
<circle cx="138.57" cy="361.64" r="1.5" class="m"/>
<circle cx="140.80" cy="361.64" r="1.5" class="m"/>
<circle cx="143.03" cy="361.63" r="1.5" class="m"/>
<circle cx="145.27" cy="361.63" r="1.5" class="m"/>
<circle cx="147.50" cy="361.62" r="1.5" class="m"/>
<circle cx="149.73" cy="361.62" r="1.5" class="m"/>
<circle cx="151.97" cy="361.62" r="1.5" class="m"/>
<circle cx="154.20" cy="361.62" r="1.5" class="m"/>
<circle cx="156.43" cy="361.62" r="1.5" class="m"/>
<circle cx="158.66" cy="361.62" r="1.5" class="m"/>
<circle cx="160.90" cy="361.62" r="1.5" class="m"/>
<circle cx="163.13" cy="361.62" r="1.5" class="m"/>
<circle cx="165.36" cy="361.62" r="1.5" class="m"/>
<circle cx="167.60" cy="361.62" r="1.5" class="m"/>
<circle cx="169.83" cy="361.63" r="1.5" class="m"/>
<circle cx="172.06" cy="361.63" r="1.5" class="m"/>
<circle cx="174.30" cy="361.64" r="1.5" class="m"/>
<circle cx="176.53" cy="361.64" r="1.5" class="m"/>
<circle cx="178.76" cy="361.65" r="1.5" class="m"/>
<circle cx="180.99" cy="361.66" r="1.5" class="m"/>
<circle cx="183.23" cy="361.66" r="1.5" class="m"/>
<circle cx="185.46" cy="361.68" r="1.5" class="m"/>
<circle cx="187.69" cy="361.70" r="1.5" class="m"/>
<circle cx="189.93" cy="361.80" r="1.5" class="m"/>
<circle cx="192.16" cy="362.44" r="1.5" class="m"/>
<circle cx="194.39" cy="366.10" r="1.5" class="m"/>
<circle cx="196.63" cy="376.89" r="1.5" class="m"/>
<circle cx="198.86" cy="389.51" r="1.5" class="m"/>
<circle cx="201.09" cy="395.17" r="1.5" class="m"/>
<circle cx="203.32" cy="396.45" r="1.5" class="m"/>
<circle cx="205.56" cy="396.67" r="1.5" class="m"/>
<circle cx="207.79" cy="396.70" r="1.5" class="m"/>
<circle cx="210.02" cy="396.70" r="1.5" class="m"/>
<circle cx="212.26" cy="396.70" r="1.5" class="m"/>
<circle cx="214.49" cy="396.70" r="1.5" class="m"/>
<circle cx="216.72" cy="396.70" r="1.5" class="m"/>
<circle cx="218.96" cy="396.70" r="1.5" class="m"/>
<circle cx="221.19" cy="396.70" r="1.5" class="m"/>
<circle cx="223.42" cy="396.70" r="1.5" class="m"/>
<circle cx="225.65" cy="396.70" r="1.5" class="m"/>
<circle cx="227.89" cy="396.70" r="1.5" class="m"/>
<circle cx="230.12" cy="396.70" r="1.5" class="m"/>
<circle cx="232.35" cy="396.70" r="1.5" class="m"/>
<circle cx="234.59" cy="396.70" r="1.5" class="m"/>
<circle cx="236.82" cy="396.70" r="1.5" class="m"/>
<circle cx="239.05" cy="396.70" r="1.5" class="m"/>
<circle cx="241.29" cy="396.70" r="1.5" class="m"/>
<circle cx="243.52" cy="396.70" r="1.5" class="m"/>
<circle cx="245.75" cy="396.70" r="1.5" class="m"/>
<circle cx="247.98" cy="396.70" r="1.5" class="m"/>
<circle cx="250.22" cy="396.70" r="1.5" class="m"/>
<circle cx="252.45" cy="396.70" r="1.5" class="m"/>
<circle cx="254.68" cy="396.70" r="1.5" class="m"/>
<circle cx="255.80" cy="396.70" r="1.5" class="m"/>
<rect x="148.40" y="304.70" width="100.30" height="23.40" class="lg"/>
<line x1="157.30" y1="310.60" x2="173.90" y2="310.60" class="ex" style="stroke:#4646a6;stroke-width:1.6"/>
<circle cx="164.70" cy="321.40" r="1.75" class="m" style="stroke-width:1.3"/>
<text x="0" y="0" transform="translate(176.10,312.96) scale(1.0,1)" font-size="7.6" style="font-family:'Liberation Serif', 'Times New Roman', serif" class="lt">Exact at time t= 0.08 s</text>
<text x="0" y="0" transform="translate(176.10,323.66) scale(1.0,1)" font-size="7.6" style="font-family:'Liberation Serif', 'Times New Roman', serif" class="lt">Present Model (HLLC)</text>
<line x1="317.80" y1="397.39" x2="539.60" y2="397.39" class="g"/>
<line x1="317.80" y1="386.88" x2="539.60" y2="386.88" class="g"/>
<line x1="317.80" y1="376.37" x2="539.60" y2="376.37" class="g"/>
<line x1="317.80" y1="365.86" x2="539.60" y2="365.86" class="g"/>
<line x1="317.80" y1="355.35" x2="539.60" y2="355.35" class="g"/>
<line x1="317.80" y1="344.84" x2="539.60" y2="344.84" class="g"/>
<line x1="317.80" y1="334.33" x2="539.60" y2="334.33" class="g"/>
<line x1="317.80" y1="323.82" x2="539.60" y2="323.82" class="g"/>
<line x1="317.80" y1="313.31" x2="539.60" y2="313.31" class="g"/>
<line x1="362.16" y1="302.80" x2="362.16" y2="407.90" class="g" style="stroke:#f2f2f2"/>
<line x1="406.52" y1="302.80" x2="406.52" y2="407.90" class="g" style="stroke:#f2f2f2"/>
<line x1="450.88" y1="302.80" x2="450.88" y2="407.90" class="g" style="stroke:#f2f2f2"/>
<line x1="495.24" y1="302.80" x2="495.24" y2="407.90" class="g" style="stroke:#f2f2f2"/>
<polyline points="317.80,302.80 539.60,302.80 539.60,407.90" class="bd"/>
<polyline points="317.80,302.80 317.80,407.90 539.60,407.90" class="ax"/>
<line x1="315.30" y1="407.90" x2="317.80" y2="407.90" class="tk"/>
<line x1="315.30" y1="397.39" x2="317.80" y2="397.39" class="tk"/>
<line x1="315.30" y1="386.88" x2="317.80" y2="386.88" class="tk"/>
<line x1="315.30" y1="376.37" x2="317.80" y2="376.37" class="tk"/>
<line x1="315.30" y1="365.86" x2="317.80" y2="365.86" class="tk"/>
<line x1="315.30" y1="355.35" x2="317.80" y2="355.35" class="tk"/>
<line x1="315.30" y1="344.84" x2="317.80" y2="344.84" class="tk"/>
<line x1="315.30" y1="334.33" x2="317.80" y2="334.33" class="tk"/>
<line x1="315.30" y1="323.82" x2="317.80" y2="323.82" class="tk"/>
<line x1="315.30" y1="313.31" x2="317.80" y2="313.31" class="tk"/>
<line x1="315.30" y1="302.80" x2="317.80" y2="302.80" class="tk"/>
<line x1="317.80" y1="407.90" x2="317.80" y2="410.40" class="tk"/>
<line x1="362.16" y1="407.90" x2="362.16" y2="410.40" class="tk"/>
<line x1="406.52" y1="407.90" x2="406.52" y2="410.40" class="tk"/>
<line x1="450.88" y1="407.90" x2="450.88" y2="410.40" class="tk"/>
<line x1="495.24" y1="407.90" x2="495.24" y2="410.40" class="tk"/>
<line x1="539.60" y1="407.90" x2="539.60" y2="410.40" class="tk"/>
<text x="0" y="0" transform="translate(311.50,410.61) scale(1.2,1)" text-anchor="end" font-size="7.0" class="s">0</text>
<text x="0" y="0" transform="translate(311.50,400.10) scale(1.2,1)" text-anchor="end" font-size="7.0" class="s">0.1</text>
<text x="0" y="0" transform="translate(311.50,389.59) scale(1.2,1)" text-anchor="end" font-size="7.0" class="s">0.2</text>
<text x="0" y="0" transform="translate(311.50,379.08) scale(1.2,1)" text-anchor="end" font-size="7.0" class="s">0.3</text>
<text x="0" y="0" transform="translate(311.50,368.57) scale(1.2,1)" text-anchor="end" font-size="7.0" class="s">0.4</text>
<text x="0" y="0" transform="translate(311.50,358.06) scale(1.2,1)" text-anchor="end" font-size="7.0" class="s">0.5</text>
<text x="0" y="0" transform="translate(311.50,347.55) scale(1.2,1)" text-anchor="end" font-size="7.0" class="s">0.6</text>
<text x="0" y="0" transform="translate(311.50,337.04) scale(1.2,1)" text-anchor="end" font-size="7.0" class="s">0.7</text>
<text x="0" y="0" transform="translate(311.50,326.53) scale(1.2,1)" text-anchor="end" font-size="7.0" class="s">0.8</text>
<text x="0" y="0" transform="translate(311.50,316.02) scale(1.2,1)" text-anchor="end" font-size="7.0" class="s">0.9</text>
<text x="0" y="0" transform="translate(311.50,305.51) scale(1.2,1)" text-anchor="end" font-size="7.0" class="s">1</text>
<text x="0" y="0" transform="translate(318.70,420.91) scale(1.2,1)" text-anchor="middle" font-size="7.0" class="s">0</text>
<text x="0" y="0" transform="translate(363.06,420.91) scale(1.2,1)" text-anchor="middle" font-size="7.0" class="s">0.2</text>
<text x="0" y="0" transform="translate(407.42,420.91) scale(1.2,1)" text-anchor="middle" font-size="7.0" class="s">0.4</text>
<text x="0" y="0" transform="translate(451.78,420.91) scale(1.2,1)" text-anchor="middle" font-size="7.0" class="s">0.6</text>
<text x="0" y="0" transform="translate(496.14,420.91) scale(1.2,1)" text-anchor="middle" font-size="7.0" class="s">0.8</text>
<text x="0" y="0" transform="translate(540.50,420.91) scale(1.2,1)" text-anchor="middle" font-size="7.0" class="s">1</text>
<text x="0" y="0" transform="translate(290.15,353.80) rotate(-90)" text-anchor="middle" font-size="7.0" class="s">Velocity (m/s)</text>
<polyline class="ex" points="317.80,407.90 373.12,407.90 398.70,310.85 480.82,310.85 483.04,407.90 539.60,407.90"/>
<circle cx="317.80" cy="407.90" r="1.5" class="m"/>
<circle cx="318.91" cy="407.90" r="1.5" class="m"/>
<circle cx="321.13" cy="407.90" r="1.5" class="m"/>
<circle cx="323.35" cy="407.90" r="1.5" class="m"/>
<circle cx="325.56" cy="407.90" r="1.5" class="m"/>
<circle cx="327.78" cy="407.90" r="1.5" class="m"/>
<circle cx="330.00" cy="407.90" r="1.5" class="m"/>
<circle cx="332.22" cy="407.90" r="1.5" class="m"/>
<circle cx="334.44" cy="407.90" r="1.5" class="m"/>
<circle cx="336.65" cy="407.90" r="1.5" class="m"/>
<circle cx="338.87" cy="407.90" r="1.5" class="m"/>
<circle cx="341.09" cy="407.90" r="1.5" class="m"/>
<circle cx="343.31" cy="407.90" r="1.5" class="m"/>
<circle cx="345.53" cy="407.90" r="1.5" class="m"/>
<circle cx="347.74" cy="407.90" r="1.5" class="m"/>
<circle cx="349.96" cy="407.90" r="1.5" class="m"/>
<circle cx="352.18" cy="407.90" r="1.5" class="m"/>
<circle cx="354.40" cy="407.90" r="1.5" class="m"/>
<circle cx="356.62" cy="407.90" r="1.5" class="m"/>
<circle cx="358.83" cy="407.88" r="1.5" class="m"/>
<circle cx="361.05" cy="407.73" r="1.5" class="m"/>
<circle cx="363.27" cy="407.14" r="1.5" class="m"/>
<circle cx="365.49" cy="405.72" r="1.5" class="m"/>
<circle cx="367.71" cy="403.21" r="1.5" class="m"/>
<circle cx="369.92" cy="399.59" r="1.5" class="m"/>
<circle cx="372.14" cy="395.05" r="1.5" class="m"/>
<circle cx="374.36" cy="389.83" r="1.5" class="m"/>
<circle cx="376.58" cy="384.16" r="1.5" class="m"/>
<circle cx="378.80" cy="378.19" r="1.5" class="m"/>
<circle cx="381.01" cy="372.04" r="1.5" class="m"/>
<circle cx="383.23" cy="365.81" r="1.5" class="m"/>
<circle cx="385.45" cy="359.57" r="1.5" class="m"/>
<circle cx="387.67" cy="353.39" r="1.5" class="m"/>
<circle cx="389.88" cy="347.33" r="1.5" class="m"/>
<circle cx="392.10" cy="341.46" r="1.5" class="m"/>
<circle cx="394.32" cy="335.85" r="1.5" class="m"/>
<circle cx="396.54" cy="330.60" r="1.5" class="m"/>
<circle cx="398.76" cy="325.81" r="1.5" class="m"/>
<circle cx="400.98" cy="321.59" r="1.5" class="m"/>
<circle cx="403.19" cy="318.05" r="1.5" class="m"/>
<circle cx="405.41" cy="315.27" r="1.5" class="m"/>
<circle cx="407.63" cy="313.26" r="1.5" class="m"/>
<circle cx="409.85" cy="311.98" r="1.5" class="m"/>
<circle cx="412.06" cy="311.26" r="1.5" class="m"/>
<circle cx="414.28" cy="310.93" r="1.5" class="m"/>
<circle cx="416.50" cy="310.82" r="1.5" class="m"/>
<circle cx="418.72" cy="310.81" r="1.5" class="m"/>
<circle cx="420.94" cy="310.83" r="1.5" class="m"/>
<circle cx="423.16" cy="310.86" r="1.5" class="m"/>
<circle cx="425.37" cy="310.88" r="1.5" class="m"/>
<circle cx="427.59" cy="310.90" r="1.5" class="m"/>
<circle cx="429.81" cy="310.92" r="1.5" class="m"/>
<circle cx="432.03" cy="310.94" r="1.5" class="m"/>
<circle cx="434.25" cy="310.95" r="1.5" class="m"/>
<circle cx="436.46" cy="310.96" r="1.5" class="m"/>
<circle cx="438.68" cy="310.98" r="1.5" class="m"/>
<circle cx="440.90" cy="310.99" r="1.5" class="m"/>
<circle cx="443.12" cy="311.00" r="1.5" class="m"/>
<circle cx="445.34" cy="311.01" r="1.5" class="m"/>
<circle cx="447.55" cy="311.03" r="1.5" class="m"/>
<circle cx="449.77" cy="311.04" r="1.5" class="m"/>
<circle cx="451.99" cy="311.05" r="1.5" class="m"/>
<circle cx="454.21" cy="311.06" r="1.5" class="m"/>
<circle cx="456.43" cy="311.08" r="1.5" class="m"/>
<circle cx="458.64" cy="311.09" r="1.5" class="m"/>
<circle cx="460.86" cy="311.11" r="1.5" class="m"/>
<circle cx="463.08" cy="311.13" r="1.5" class="m"/>
<circle cx="465.30" cy="311.15" r="1.5" class="m"/>
<circle cx="467.51" cy="311.18" r="1.5" class="m"/>
<circle cx="469.73" cy="311.22" r="1.5" class="m"/>
<circle cx="471.95" cy="311.28" r="1.5" class="m"/>
<circle cx="474.17" cy="311.53" r="1.5" class="m"/>
<circle cx="476.39" cy="313.12" r="1.5" class="m"/>
<circle cx="478.61" cy="322.23" r="1.5" class="m"/>
<circle cx="480.82" cy="350.10" r="1.5" class="m"/>
<circle cx="483.04" cy="386.16" r="1.5" class="m"/>
<circle cx="485.26" cy="403.30" r="1.5" class="m"/>
<circle cx="487.48" cy="407.16" r="1.5" class="m"/>
<circle cx="489.70" cy="407.80" r="1.5" class="m"/>
<circle cx="491.91" cy="407.89" r="1.5" class="m"/>
<circle cx="494.13" cy="407.90" r="1.5" class="m"/>
<circle cx="496.35" cy="407.90" r="1.5" class="m"/>
<circle cx="498.57" cy="407.90" r="1.5" class="m"/>
<circle cx="500.79" cy="407.90" r="1.5" class="m"/>
<circle cx="503.00" cy="407.90" r="1.5" class="m"/>
<circle cx="505.22" cy="407.90" r="1.5" class="m"/>
<circle cx="507.44" cy="407.90" r="1.5" class="m"/>
<circle cx="509.66" cy="407.90" r="1.5" class="m"/>
<circle cx="511.88" cy="407.90" r="1.5" class="m"/>
<circle cx="514.09" cy="407.90" r="1.5" class="m"/>
<circle cx="516.31" cy="407.90" r="1.5" class="m"/>
<circle cx="518.53" cy="407.90" r="1.5" class="m"/>
<circle cx="520.75" cy="407.90" r="1.5" class="m"/>
<circle cx="522.97" cy="407.90" r="1.5" class="m"/>
<circle cx="525.18" cy="407.90" r="1.5" class="m"/>
<circle cx="527.40" cy="407.90" r="1.5" class="m"/>
<circle cx="529.62" cy="407.90" r="1.5" class="m"/>
<circle cx="531.84" cy="407.90" r="1.5" class="m"/>
<circle cx="534.06" cy="407.90" r="1.5" class="m"/>
<circle cx="536.27" cy="407.90" r="1.5" class="m"/>
<circle cx="538.49" cy="407.90" r="1.5" class="m"/>
<circle cx="539.60" cy="407.90" r="1.5" class="m"/>
<rect x="320.00" y="303.20" width="69.50" height="34.00" class="lg"/>
<line x1="323.30" y1="308.40" x2="340.90" y2="308.40" class="ex" style="stroke:#4646a6;stroke-width:1.6"/>
<circle cx="331.80" cy="323.90" r="1.75" class="m" style="stroke-width:1.3"/>
<text x="0" y="0" transform="translate(342.70,310.69) scale(1.05,1)" font-size="7.4" style="font-family:'Liberation Serif', 'Times New Roman', serif" class="lt">Exact at time</text>
<text x="0" y="0" transform="translate(342.70,318.49) scale(1.05,1)" font-size="7.4" style="font-family:'Liberation Serif', 'Times New Roman', serif" class="lt">t= 0.08 s</text>
<text x="0" y="0" transform="translate(342.70,326.09) scale(1.05,1)" font-size="7.4" style="font-family:'Liberation Serif', 'Times New Roman', serif" class="lt">Present Model</text>
<text x="0" y="0" transform="translate(342.70,333.99) scale(1.05,1)" font-size="7.4" style="font-family:'Liberation Serif', 'Times New Roman', serif" class="lt">(HLLC)</text>
<line x1="31.40" y1="543.99" x2="257.00" y2="543.99" class="g"/>
<line x1="31.40" y1="529.27" x2="257.00" y2="529.27" class="g"/>
<line x1="31.40" y1="514.56" x2="257.00" y2="514.56" class="g"/>
<line x1="31.40" y1="499.84" x2="257.00" y2="499.84" class="g"/>
<line x1="31.40" y1="485.13" x2="257.00" y2="485.13" class="g"/>
<line x1="31.40" y1="470.41" x2="257.00" y2="470.41" class="g"/>
<line x1="76.52" y1="455.70" x2="76.52" y2="558.70" class="g" style="stroke:#f2f2f2"/>
<line x1="121.64" y1="455.70" x2="121.64" y2="558.70" class="g" style="stroke:#f2f2f2"/>
<line x1="166.76" y1="455.70" x2="166.76" y2="558.70" class="g" style="stroke:#f2f2f2"/>
<line x1="211.88" y1="455.70" x2="211.88" y2="558.70" class="g" style="stroke:#f2f2f2"/>
<polyline points="31.40,455.70 257.00,455.70 257.00,558.70" class="bd"/>
<polyline points="31.40,455.70 31.40,558.70 257.00,558.70" class="ax"/>
<line x1="28.90" y1="558.70" x2="31.40" y2="558.70" class="tk"/>
<line x1="28.90" y1="543.99" x2="31.40" y2="543.99" class="tk"/>
<line x1="28.90" y1="529.27" x2="31.40" y2="529.27" class="tk"/>
<line x1="28.90" y1="514.56" x2="31.40" y2="514.56" class="tk"/>
<line x1="28.90" y1="499.84" x2="31.40" y2="499.84" class="tk"/>
<line x1="28.90" y1="485.13" x2="31.40" y2="485.13" class="tk"/>
<line x1="28.90" y1="470.41" x2="31.40" y2="470.41" class="tk"/>
<line x1="28.90" y1="455.70" x2="31.40" y2="455.70" class="tk"/>
<line x1="31.40" y1="558.70" x2="31.40" y2="561.20" class="tk"/>
<line x1="76.52" y1="558.70" x2="76.52" y2="561.20" class="tk"/>
<line x1="121.64" y1="558.70" x2="121.64" y2="561.20" class="tk"/>
<line x1="166.76" y1="558.70" x2="166.76" y2="561.20" class="tk"/>
<line x1="211.88" y1="558.70" x2="211.88" y2="561.20" class="tk"/>
<line x1="257.00" y1="558.70" x2="257.00" y2="561.20" class="tk"/>
<text x="25.90" y="561.24" text-anchor="end" font-size="7.7" class="s">0.4</text>
<text x="25.90" y="546.53" text-anchor="end" font-size="7.7" class="s">0.5</text>
<text x="25.90" y="531.81" text-anchor="end" font-size="7.7" class="s">0.6</text>
<text x="25.90" y="517.10" text-anchor="end" font-size="7.7" class="s">0.7</text>
<text x="25.90" y="502.38" text-anchor="end" font-size="7.7" class="s">0.8</text>
<text x="25.90" y="487.67" text-anchor="end" font-size="7.7" class="s">0.9</text>
<text x="25.90" y="472.96" text-anchor="end" font-size="7.7" class="s">1</text>
<text x="25.90" y="458.24" text-anchor="end" font-size="7.7" class="s">1.1</text>
<text x="32.10" y="571.74" text-anchor="middle" font-size="7.7" class="s">0</text>
<text x="77.22" y="571.74" text-anchor="middle" font-size="7.7" class="s">0.2</text>
<text x="122.34" y="571.74" text-anchor="middle" font-size="7.7" class="s">0.4</text>
<text x="167.46" y="571.74" text-anchor="middle" font-size="7.7" class="s">0.6</text>
<text x="212.58" y="571.74" text-anchor="middle" font-size="7.7" class="s">0.8</text>
<text x="257.70" y="571.74" text-anchor="middle" font-size="7.7" class="s">1</text>
<text x="0" y="0" transform="translate(8.57,507.10) rotate(-90)" text-anchor="middle" font-size="7.1" class="s">Depth Water (m)</text>
<text x="144.50" y="581.70" text-anchor="middle" font-size="8" class="s">Position x (m)</text>
<polyline class="ex" points="31.40,470.41 73.54,470.41 74.38,471.52 75.23,472.63 76.07,473.73 76.92,474.83 77.76,475.92 78.61,477.01 79.45,478.10 80.30,479.18 81.14,480.25 81.99,481.33 82.83,482.39 83.68,483.46 84.52,484.52 85.37,485.57 86.21,486.63 87.06,487.67 87.90,488.72 88.75,489.75 89.59,490.79 90.44,491.82 91.28,492.85 92.13,493.87 92.97,494.88 93.81,495.90 94.66,496.91 95.50,497.91 96.35,498.91 97.19,499.91 98.04,500.90 98.88,501.89 99.73,502.87 100.57,503.85 101.42,504.83 102.26,505.80 103.11,506.77 103.95,507.73 104.80,508.69 105.64,509.65 106.49,510.60 210.75,510.60 213.01,543.99 257.00,543.99"/>
<circle cx="31.40" cy="470.41" r="1.5" class="m"/>
<circle cx="32.53" cy="470.41" r="1.5" class="m"/>
<circle cx="34.78" cy="470.41" r="1.5" class="m"/>
<circle cx="37.04" cy="470.41" r="1.5" class="m"/>
<circle cx="39.30" cy="470.41" r="1.5" class="m"/>
<circle cx="41.55" cy="470.41" r="1.5" class="m"/>
<circle cx="43.81" cy="470.41" r="1.5" class="m"/>
<circle cx="46.06" cy="470.41" r="1.5" class="m"/>
<circle cx="48.32" cy="470.41" r="1.5" class="m"/>
<circle cx="50.58" cy="470.41" r="1.5" class="m"/>
<circle cx="52.83" cy="470.41" r="1.5" class="m"/>
<circle cx="55.09" cy="470.42" r="1.5" class="m"/>
<circle cx="57.34" cy="470.43" r="1.5" class="m"/>
<circle cx="59.60" cy="470.49" r="1.5" class="m"/>
<circle cx="61.86" cy="470.68" r="1.5" class="m"/>
<circle cx="64.11" cy="471.11" r="1.5" class="m"/>
<circle cx="66.37" cy="471.87" r="1.5" class="m"/>
<circle cx="68.62" cy="472.99" r="1.5" class="m"/>
<circle cx="70.88" cy="474.44" r="1.5" class="m"/>
<circle cx="73.14" cy="476.16" r="1.5" class="m"/>
<circle cx="75.39" cy="478.06" r="1.5" class="m"/>
<circle cx="77.65" cy="480.11" r="1.5" class="m"/>
<circle cx="79.90" cy="482.23" r="1.5" class="m"/>
<circle cx="82.16" cy="484.41" r="1.5" class="m"/>
<circle cx="84.42" cy="486.61" r="1.5" class="m"/>
<circle cx="86.67" cy="488.81" r="1.5" class="m"/>
<circle cx="88.93" cy="490.99" r="1.5" class="m"/>
<circle cx="91.18" cy="493.14" r="1.5" class="m"/>
<circle cx="93.44" cy="495.25" r="1.5" class="m"/>
<circle cx="95.70" cy="497.30" r="1.5" class="m"/>
<circle cx="97.95" cy="499.27" r="1.5" class="m"/>
<circle cx="100.21" cy="501.15" r="1.5" class="m"/>
<circle cx="102.46" cy="502.92" r="1.5" class="m"/>
<circle cx="104.72" cy="504.55" r="1.5" class="m"/>
<circle cx="106.98" cy="506.02" r="1.5" class="m"/>
<circle cx="109.23" cy="507.30" r="1.5" class="m"/>
<circle cx="111.49" cy="508.37" r="1.5" class="m"/>
<circle cx="113.74" cy="509.21" r="1.5" class="m"/>
<circle cx="116.00" cy="509.83" r="1.5" class="m"/>
<circle cx="118.26" cy="510.24" r="1.5" class="m"/>
<circle cx="120.51" cy="510.49" r="1.5" class="m"/>
<circle cx="122.77" cy="510.62" r="1.5" class="m"/>
<circle cx="125.02" cy="510.68" r="1.5" class="m"/>
<circle cx="127.28" cy="510.70" r="1.5" class="m"/>
<circle cx="129.54" cy="510.70" r="1.5" class="m"/>
<circle cx="131.79" cy="510.69" r="1.5" class="m"/>
<circle cx="134.05" cy="510.68" r="1.5" class="m"/>
<circle cx="136.30" cy="510.68" r="1.5" class="m"/>
<circle cx="138.56" cy="510.68" r="1.5" class="m"/>
<circle cx="140.82" cy="510.67" r="1.5" class="m"/>
<circle cx="143.07" cy="510.67" r="1.5" class="m"/>
<circle cx="145.33" cy="510.67" r="1.5" class="m"/>
<circle cx="147.58" cy="510.67" r="1.5" class="m"/>
<circle cx="149.84" cy="510.66" r="1.5" class="m"/>
<circle cx="152.10" cy="510.66" r="1.5" class="m"/>
<circle cx="154.35" cy="510.66" r="1.5" class="m"/>
<circle cx="156.61" cy="510.66" r="1.5" class="m"/>
<circle cx="158.86" cy="510.66" r="1.5" class="m"/>
<circle cx="161.12" cy="510.66" r="1.5" class="m"/>
<circle cx="163.38" cy="510.66" r="1.5" class="m"/>
<circle cx="165.63" cy="510.66" r="1.5" class="m"/>
<circle cx="167.89" cy="510.67" r="1.5" class="m"/>
<circle cx="170.14" cy="510.67" r="1.5" class="m"/>
<circle cx="172.40" cy="510.67" r="1.5" class="m"/>
<circle cx="174.66" cy="510.67" r="1.5" class="m"/>
<circle cx="176.91" cy="510.67" r="1.5" class="m"/>
<circle cx="179.17" cy="510.67" r="1.5" class="m"/>
<circle cx="181.42" cy="510.68" r="1.5" class="m"/>
<circle cx="183.68" cy="510.68" r="1.5" class="m"/>
<circle cx="185.94" cy="510.68" r="1.5" class="m"/>
<circle cx="188.19" cy="510.69" r="1.5" class="m"/>
<circle cx="190.45" cy="510.69" r="1.5" class="m"/>
<circle cx="192.70" cy="510.70" r="1.5" class="m"/>
<circle cx="194.96" cy="510.70" r="1.5" class="m"/>
<circle cx="197.22" cy="510.71" r="1.5" class="m"/>
<circle cx="199.47" cy="510.72" r="1.5" class="m"/>
<circle cx="201.73" cy="510.75" r="1.5" class="m"/>
<circle cx="203.98" cy="510.85" r="1.5" class="m"/>
<circle cx="206.24" cy="511.60" r="1.5" class="m"/>
<circle cx="208.50" cy="515.61" r="1.5" class="m"/>
<circle cx="210.75" cy="526.42" r="1.5" class="m"/>
<circle cx="213.01" cy="537.90" r="1.5" class="m"/>
<circle cx="215.26" cy="542.70" r="1.5" class="m"/>
<circle cx="217.52" cy="543.77" r="1.5" class="m"/>
<circle cx="219.78" cy="543.95" r="1.5" class="m"/>
<circle cx="222.03" cy="543.98" r="1.5" class="m"/>
<circle cx="224.29" cy="543.99" r="1.5" class="m"/>
<circle cx="226.54" cy="543.99" r="1.5" class="m"/>
<circle cx="228.80" cy="543.99" r="1.5" class="m"/>
<circle cx="231.06" cy="543.99" r="1.5" class="m"/>
<circle cx="233.31" cy="543.99" r="1.5" class="m"/>
<circle cx="235.57" cy="543.99" r="1.5" class="m"/>
<circle cx="237.82" cy="543.99" r="1.5" class="m"/>
<circle cx="240.08" cy="543.99" r="1.5" class="m"/>
<circle cx="242.34" cy="543.99" r="1.5" class="m"/>
<circle cx="244.59" cy="543.99" r="1.5" class="m"/>
<circle cx="246.85" cy="543.99" r="1.5" class="m"/>
<circle cx="249.10" cy="543.99" r="1.5" class="m"/>
<circle cx="251.36" cy="543.99" r="1.5" class="m"/>
<circle cx="253.62" cy="543.99" r="1.5" class="m"/>
<circle cx="255.87" cy="543.99" r="1.5" class="m"/>
<circle cx="257.00" cy="543.99" r="1.5" class="m"/>
<rect x="150.20" y="455.70" width="104.80" height="21.90" class="lg"/>
<line x1="159.00" y1="461.60" x2="175.60" y2="461.60" class="ex" style="stroke:#4646a6;stroke-width:1.6"/>
<circle cx="166.70" cy="472.00" r="1.75" class="m" style="stroke-width:1.3"/>
<text x="0" y="0" transform="translate(177.70,464.00) scale(1.0,1)" font-size="7.7" style="font-family:'Liberation Serif', 'Times New Roman', serif" class="lt">Exact at time t= 0.1 s</text>
<text x="0" y="0" transform="translate(177.70,474.30) scale(1.0,1)" font-size="7.7" style="font-family:'Liberation Serif', 'Times New Roman', serif" class="lt">Present Model (HLLC)</text>
<line x1="312.50" y1="551.45" x2="539.60" y2="551.45" class="g"/>
<line x1="312.50" y1="540.60" x2="539.60" y2="540.60" class="g"/>
<line x1="312.50" y1="529.75" x2="539.60" y2="529.75" class="g"/>
<line x1="312.50" y1="518.90" x2="539.60" y2="518.90" class="g"/>
<line x1="312.50" y1="508.05" x2="539.60" y2="508.05" class="g"/>
<line x1="312.50" y1="497.20" x2="539.60" y2="497.20" class="g"/>
<line x1="312.50" y1="486.35" x2="539.60" y2="486.35" class="g"/>
<line x1="312.50" y1="475.50" x2="539.60" y2="475.50" class="g"/>
<line x1="312.50" y1="464.65" x2="539.60" y2="464.65" class="g"/>
<line x1="357.92" y1="453.80" x2="357.92" y2="562.30" class="g" style="stroke:#f2f2f2"/>
<line x1="403.34" y1="453.80" x2="403.34" y2="562.30" class="g" style="stroke:#f2f2f2"/>
<line x1="448.76" y1="453.80" x2="448.76" y2="562.30" class="g" style="stroke:#f2f2f2"/>
<line x1="494.18" y1="453.80" x2="494.18" y2="562.30" class="g" style="stroke:#f2f2f2"/>
<polyline points="312.50,453.80 539.60,453.80 539.60,562.30" class="bd"/>
<polyline points="312.50,453.80 312.50,562.30 539.60,562.30" class="ax"/>
<line x1="310.00" y1="562.30" x2="312.50" y2="562.30" class="tk"/>
<line x1="310.00" y1="551.45" x2="312.50" y2="551.45" class="tk"/>
<line x1="310.00" y1="540.60" x2="312.50" y2="540.60" class="tk"/>
<line x1="310.00" y1="529.75" x2="312.50" y2="529.75" class="tk"/>
<line x1="310.00" y1="518.90" x2="312.50" y2="518.90" class="tk"/>
<line x1="310.00" y1="508.05" x2="312.50" y2="508.05" class="tk"/>
<line x1="310.00" y1="497.20" x2="312.50" y2="497.20" class="tk"/>
<line x1="310.00" y1="486.35" x2="312.50" y2="486.35" class="tk"/>
<line x1="310.00" y1="475.50" x2="312.50" y2="475.50" class="tk"/>
<line x1="310.00" y1="464.65" x2="312.50" y2="464.65" class="tk"/>
<line x1="310.00" y1="453.80" x2="312.50" y2="453.80" class="tk"/>
<line x1="312.50" y1="562.30" x2="312.50" y2="564.80" class="tk"/>
<line x1="357.92" y1="562.30" x2="357.92" y2="564.80" class="tk"/>
<line x1="403.34" y1="562.30" x2="403.34" y2="564.80" class="tk"/>
<line x1="448.76" y1="562.30" x2="448.76" y2="564.80" class="tk"/>
<line x1="494.18" y1="562.30" x2="494.18" y2="564.80" class="tk"/>
<line x1="539.60" y1="562.30" x2="539.60" y2="564.80" class="tk"/>
<text x="0" y="0" transform="translate(306.20,565.01) scale(1.2,1)" text-anchor="end" font-size="7.0" class="s">0</text>
<text x="0" y="0" transform="translate(306.20,554.16) scale(1.2,1)" text-anchor="end" font-size="7.0" class="s">0.1</text>
<text x="0" y="0" transform="translate(306.20,543.31) scale(1.2,1)" text-anchor="end" font-size="7.0" class="s">0.2</text>
<text x="0" y="0" transform="translate(306.20,532.46) scale(1.2,1)" text-anchor="end" font-size="7.0" class="s">0.3</text>
<text x="0" y="0" transform="translate(306.20,521.61) scale(1.2,1)" text-anchor="end" font-size="7.0" class="s">0.4</text>
<text x="0" y="0" transform="translate(306.20,510.76) scale(1.2,1)" text-anchor="end" font-size="7.0" class="s">0.5</text>
<text x="0" y="0" transform="translate(306.20,499.91) scale(1.2,1)" text-anchor="end" font-size="7.0" class="s">0.6</text>
<text x="0" y="0" transform="translate(306.20,489.06) scale(1.2,1)" text-anchor="end" font-size="7.0" class="s">0.7</text>
<text x="0" y="0" transform="translate(306.20,478.21) scale(1.2,1)" text-anchor="end" font-size="7.0" class="s">0.8</text>
<text x="0" y="0" transform="translate(306.20,467.36) scale(1.2,1)" text-anchor="end" font-size="7.0" class="s">0.9</text>
<text x="0" y="0" transform="translate(306.20,456.51) scale(1.2,1)" text-anchor="end" font-size="7.0" class="s">1</text>
<text x="0" y="0" transform="translate(313.40,574.71) scale(1.2,1)" text-anchor="middle" font-size="7.0" class="s">0</text>
<text x="0" y="0" transform="translate(358.82,574.71) scale(1.2,1)" text-anchor="middle" font-size="7.0" class="s">0.2</text>
<text x="0" y="0" transform="translate(404.24,574.71) scale(1.2,1)" text-anchor="middle" font-size="7.0" class="s">0.4</text>
<text x="0" y="0" transform="translate(449.66,574.71) scale(1.2,1)" text-anchor="middle" font-size="7.0" class="s">0.6</text>
<text x="0" y="0" transform="translate(495.08,574.71) scale(1.2,1)" text-anchor="middle" font-size="7.0" class="s">0.8</text>
<text x="0" y="0" transform="translate(540.50,574.71) scale(1.2,1)" text-anchor="middle" font-size="7.0" class="s">1</text>
<text x="0" y="0" transform="translate(290.33,507.10) rotate(-90)" text-anchor="middle" font-size="6.9" class="s">Velocity (m/s)</text>
<text x="427.00" y="583.00" text-anchor="middle" font-size="8" class="s">Position x (m)</text>
<polyline class="ex" points="312.50,562.30 354.92,562.30 388.87,462.12 493.04,462.12 495.32,562.30 539.60,562.30"/>
<circle cx="312.50" cy="562.30" r="1.5" class="m"/>
<circle cx="313.64" cy="562.30" r="1.5" class="m"/>
<circle cx="315.91" cy="562.30" r="1.5" class="m"/>
<circle cx="318.18" cy="562.30" r="1.5" class="m"/>
<circle cx="320.45" cy="562.30" r="1.5" class="m"/>
<circle cx="322.72" cy="562.30" r="1.5" class="m"/>
<circle cx="324.99" cy="562.30" r="1.5" class="m"/>
<circle cx="327.26" cy="562.30" r="1.5" class="m"/>
<circle cx="329.53" cy="562.30" r="1.5" class="m"/>
<circle cx="331.80" cy="562.30" r="1.5" class="m"/>
<circle cx="334.07" cy="562.30" r="1.5" class="m"/>
<circle cx="336.35" cy="562.30" r="1.5" class="m"/>
<circle cx="338.62" cy="562.27" r="1.5" class="m"/>
<circle cx="340.89" cy="562.13" r="1.5" class="m"/>
<circle cx="343.16" cy="561.69" r="1.5" class="m"/>
<circle cx="345.43" cy="560.70" r="1.5" class="m"/>
<circle cx="347.70" cy="558.94" r="1.5" class="m"/>
<circle cx="349.97" cy="556.33" r="1.5" class="m"/>
<circle cx="352.24" cy="552.95" r="1.5" class="m"/>
<circle cx="354.51" cy="548.92" r="1.5" class="m"/>
<circle cx="356.78" cy="544.42" r="1.5" class="m"/>
<circle cx="359.06" cy="539.57" r="1.5" class="m"/>
<circle cx="361.33" cy="534.48" r="1.5" class="m"/>
<circle cx="363.60" cy="529.23" r="1.5" class="m"/>
<circle cx="365.87" cy="523.88" r="1.5" class="m"/>
<circle cx="368.14" cy="518.49" r="1.5" class="m"/>
<circle cx="370.41" cy="513.08" r="1.5" class="m"/>
<circle cx="372.68" cy="507.71" r="1.5" class="m"/>
<circle cx="374.95" cy="502.41" r="1.5" class="m"/>
<circle cx="377.22" cy="497.21" r="1.5" class="m"/>
<circle cx="379.49" cy="492.16" r="1.5" class="m"/>
<circle cx="381.77" cy="487.31" r="1.5" class="m"/>
<circle cx="384.04" cy="482.71" r="1.5" class="m"/>
<circle cx="386.31" cy="478.44" r="1.5" class="m"/>
<circle cx="388.58" cy="474.57" r="1.5" class="m"/>
<circle cx="390.85" cy="471.17" r="1.5" class="m"/>
<circle cx="393.12" cy="468.32" r="1.5" class="m"/>
<circle cx="395.39" cy="466.06" r="1.5" class="m"/>
<circle cx="397.66" cy="464.40" r="1.5" class="m"/>
<circle cx="399.93" cy="463.28" r="1.5" class="m"/>
<circle cx="402.20" cy="462.61" r="1.5" class="m"/>
<circle cx="404.48" cy="462.26" r="1.5" class="m"/>
<circle cx="406.75" cy="462.11" r="1.5" class="m"/>
<circle cx="409.02" cy="462.07" r="1.5" class="m"/>
<circle cx="411.29" cy="462.08" r="1.5" class="m"/>
<circle cx="413.56" cy="462.10" r="1.5" class="m"/>
<circle cx="415.83" cy="462.12" r="1.5" class="m"/>
<circle cx="418.10" cy="462.14" r="1.5" class="m"/>
<circle cx="420.37" cy="462.15" r="1.5" class="m"/>
<circle cx="422.64" cy="462.17" r="1.5" class="m"/>
<circle cx="424.91" cy="462.18" r="1.5" class="m"/>
<circle cx="427.19" cy="462.19" r="1.5" class="m"/>
<circle cx="429.46" cy="462.20" r="1.5" class="m"/>
<circle cx="431.73" cy="462.21" r="1.5" class="m"/>
<circle cx="434.00" cy="462.22" r="1.5" class="m"/>
<circle cx="436.27" cy="462.23" r="1.5" class="m"/>
<circle cx="438.54" cy="462.24" r="1.5" class="m"/>
<circle cx="440.81" cy="462.24" r="1.5" class="m"/>
<circle cx="443.08" cy="462.25" r="1.5" class="m"/>
<circle cx="445.35" cy="462.26" r="1.5" class="m"/>
<circle cx="447.62" cy="462.27" r="1.5" class="m"/>
<circle cx="449.90" cy="462.27" r="1.5" class="m"/>
<circle cx="452.17" cy="462.28" r="1.5" class="m"/>
<circle cx="454.44" cy="462.29" r="1.5" class="m"/>
<circle cx="456.71" cy="462.30" r="1.5" class="m"/>
<circle cx="458.98" cy="462.31" r="1.5" class="m"/>
<circle cx="461.25" cy="462.32" r="1.5" class="m"/>
<circle cx="463.52" cy="462.33" r="1.5" class="m"/>
<circle cx="465.79" cy="462.34" r="1.5" class="m"/>
<circle cx="468.06" cy="462.35" r="1.5" class="m"/>
<circle cx="470.33" cy="462.36" r="1.5" class="m"/>
<circle cx="472.61" cy="462.38" r="1.5" class="m"/>
<circle cx="474.88" cy="462.39" r="1.5" class="m"/>
<circle cx="477.15" cy="462.41" r="1.5" class="m"/>
<circle cx="479.42" cy="462.43" r="1.5" class="m"/>
<circle cx="481.69" cy="462.46" r="1.5" class="m"/>
<circle cx="483.96" cy="462.53" r="1.5" class="m"/>
<circle cx="486.23" cy="462.83" r="1.5" class="m"/>
<circle cx="488.50" cy="464.84" r="1.5" class="m"/>
<circle cx="490.77" cy="475.71" r="1.5" class="m"/>
<circle cx="493.04" cy="506.31" r="1.5" class="m"/>
<circle cx="495.32" cy="542.28" r="1.5" class="m"/>
<circle cx="497.59" cy="558.09" r="1.5" class="m"/>
<circle cx="499.86" cy="561.59" r="1.5" class="m"/>
<circle cx="502.13" cy="562.19" r="1.5" class="m"/>
<circle cx="504.40" cy="562.28" r="1.5" class="m"/>
<circle cx="506.67" cy="562.30" r="1.5" class="m"/>
<circle cx="508.94" cy="562.30" r="1.5" class="m"/>
<circle cx="511.21" cy="562.30" r="1.5" class="m"/>
<circle cx="513.48" cy="562.30" r="1.5" class="m"/>
<circle cx="515.75" cy="562.30" r="1.5" class="m"/>
<circle cx="518.03" cy="562.30" r="1.5" class="m"/>
<circle cx="520.30" cy="562.30" r="1.5" class="m"/>
<circle cx="522.57" cy="562.30" r="1.5" class="m"/>
<circle cx="524.84" cy="562.30" r="1.5" class="m"/>
<circle cx="527.11" cy="562.30" r="1.5" class="m"/>
<circle cx="529.38" cy="562.30" r="1.5" class="m"/>
<circle cx="531.65" cy="562.30" r="1.5" class="m"/>
<circle cx="533.92" cy="562.30" r="1.5" class="m"/>
<circle cx="536.19" cy="562.30" r="1.5" class="m"/>
<circle cx="538.46" cy="562.30" r="1.5" class="m"/>
<circle cx="539.60" cy="562.30" r="1.5" class="m"/>
<rect x="392.70" y="530.90" width="67.30" height="31.30" class="lg"/>
<line x1="396.40" y1="535.80" x2="413.60" y2="535.80" class="ex" style="stroke:#4646a6;stroke-width:1.6"/>
<circle cx="403.60" cy="549.10" r="1.75" class="m" style="stroke-width:1.3"/>
<text x="0" y="0" transform="translate(414.90,538.02) scale(1.04,1)" font-size="7.2" style="font-family:'Liberation Serif', 'Times New Roman', serif" class="lt">Exact at time</text>
<text x="0" y="0" transform="translate(414.90,545.82) scale(1.04,1)" font-size="7.2" style="font-family:'Liberation Serif', 'Times New Roman', serif" class="lt">t= 0.1 s</text>
<text x="0" y="0" transform="translate(414.90,551.22) scale(1.04,1)" font-size="7.2" style="font-family:'Liberation Serif', 'Times New Roman', serif" class="lt">Present Model</text>
<text x="0" y="0" transform="translate(414.90,558.92) scale(1.04,1)" font-size="7.2" style="font-family:'Liberation Serif', 'Times New Roman', serif" class="lt">(HLLC)</text>
<text x="272.9" y="144.35" text-anchor="middle" class="lab">(b)</text>
<text x="272.9" y="292.35" text-anchor="middle" class="lab">(c)</text>
<text x="272.9" y="442.65" text-anchor="middle" class="lab">(d)</text>
<text x="272.9" y="601.35" text-anchor="middle" class="lab">(e)</text>
</svg>
</body></html>
